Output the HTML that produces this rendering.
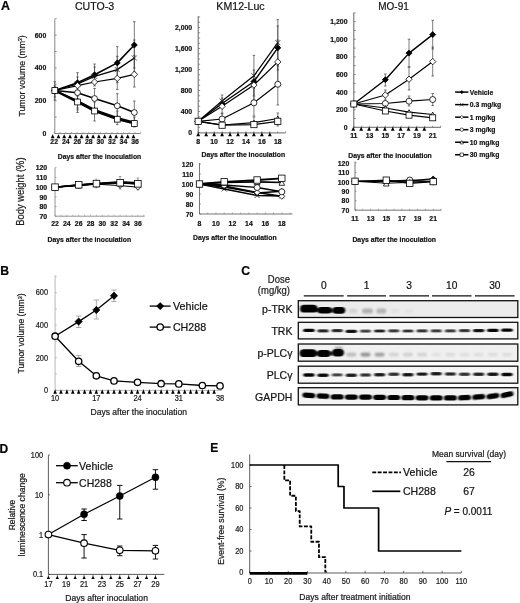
<!DOCTYPE html>
<html lang="en"><head><meta charset="utf-8"><title>Figure</title><style>html,body{margin:0;padding:0;background:#fff}svg{display:block}text{font-family:"Liberation Sans",Arial,sans-serif;stroke:#1a1a1a;stroke-width:.22px}</style></head><body>
<svg width="520" height="603" viewBox="0 0 520 603" font-family="Liberation Sans, Arial, sans-serif">
<defs><filter id="b1" x="-30%" y="-80%" width="160%" height="260%"><feGaussianBlur stdDeviation="0.8 0.6"/></filter><filter id="b2" x="-30%" y="-80%" width="160%" height="260%"><feGaussianBlur stdDeviation="1.3 0.9"/></filter><filter id="b3" x="-30%" y="-120%" width="160%" height="340%"><feGaussianBlur stdDeviation="0.9 0.55"/></filter></defs>
<rect width="520" height="603" fill="#fff"/>
<text x="0.90" y="10.00" font-size="12.5" font-weight="bold" text-anchor="start" fill="#000">A</text>
<text x="0.20" y="275.40" font-size="12.2" font-weight="bold" text-anchor="start" fill="#000">B</text>
<text x="241.20" y="275.30" font-size="12.2" font-weight="bold" text-anchor="start" fill="#000">C</text>
<text x="-0.60" y="452.50" font-size="12" font-weight="bold" text-anchor="start" fill="#000">D</text>
<text x="210.30" y="452.30" font-size="12" font-weight="bold" text-anchor="start" fill="#000">E</text>
<text transform="translate(94.50 10.00) scale(0.93 1)" font-size="11.4" text-anchor="middle" fill="#111">CUTO-3</text>
<line x1="54.80" y1="19.20" x2="54.80" y2="133.50" stroke="#777" stroke-width="0.9"/>
<line x1="54.80" y1="133.50" x2="140.40" y2="133.50" stroke="#777" stroke-width="0.9"/>
<line x1="54.80" y1="133.50" x2="56.70" y2="133.50" stroke="#666" stroke-width="0.7"/>
<text transform="translate(46.30 136.00) scale(0.91 1)" font-size="7.6" font-weight="bold" text-anchor="end" fill="#111">0</text>
<line x1="54.80" y1="117.10" x2="56.70" y2="117.10" stroke="#666" stroke-width="0.7"/>
<line x1="54.80" y1="100.70" x2="56.70" y2="100.70" stroke="#666" stroke-width="0.7"/>
<text transform="translate(46.30 103.20) scale(0.91 1)" font-size="7.6" font-weight="bold" text-anchor="end" fill="#111">200</text>
<line x1="54.80" y1="84.30" x2="56.70" y2="84.30" stroke="#666" stroke-width="0.7"/>
<line x1="54.80" y1="67.90" x2="56.70" y2="67.90" stroke="#666" stroke-width="0.7"/>
<text transform="translate(46.30 70.40) scale(0.91 1)" font-size="7.6" font-weight="bold" text-anchor="end" fill="#111">400</text>
<line x1="54.80" y1="51.50" x2="56.70" y2="51.50" stroke="#666" stroke-width="0.7"/>
<line x1="54.80" y1="35.10" x2="56.70" y2="35.10" stroke="#666" stroke-width="0.7"/>
<text transform="translate(46.30 37.60) scale(0.91 1)" font-size="7.6" font-weight="bold" text-anchor="end" fill="#111">600</text>
<line x1="54.80" y1="18.70" x2="56.70" y2="18.70" stroke="#666" stroke-width="0.7"/>
<line x1="54.20" y1="131.90" x2="54.20" y2="133.50" stroke="#777" stroke-width="0.6"/>
<line x1="59.97" y1="131.90" x2="59.97" y2="133.50" stroke="#777" stroke-width="0.6"/>
<line x1="65.74" y1="131.90" x2="65.74" y2="133.50" stroke="#777" stroke-width="0.6"/>
<line x1="71.51" y1="131.90" x2="71.51" y2="133.50" stroke="#777" stroke-width="0.6"/>
<line x1="77.28" y1="131.90" x2="77.28" y2="133.50" stroke="#777" stroke-width="0.6"/>
<line x1="83.05" y1="131.90" x2="83.05" y2="133.50" stroke="#777" stroke-width="0.6"/>
<line x1="88.82" y1="131.90" x2="88.82" y2="133.50" stroke="#777" stroke-width="0.6"/>
<line x1="94.59" y1="131.90" x2="94.59" y2="133.50" stroke="#777" stroke-width="0.6"/>
<line x1="100.36" y1="131.90" x2="100.36" y2="133.50" stroke="#777" stroke-width="0.6"/>
<line x1="106.13" y1="131.90" x2="106.13" y2="133.50" stroke="#777" stroke-width="0.6"/>
<line x1="111.90" y1="131.90" x2="111.90" y2="133.50" stroke="#777" stroke-width="0.6"/>
<line x1="117.67" y1="131.90" x2="117.67" y2="133.50" stroke="#777" stroke-width="0.6"/>
<line x1="123.44" y1="131.90" x2="123.44" y2="133.50" stroke="#777" stroke-width="0.6"/>
<line x1="129.21" y1="131.90" x2="129.21" y2="133.50" stroke="#777" stroke-width="0.6"/>
<line x1="134.98" y1="131.90" x2="134.98" y2="133.50" stroke="#777" stroke-width="0.6"/>
<line x1="140.75" y1="131.90" x2="140.75" y2="133.50" stroke="#777" stroke-width="0.6"/>
<path d="M52.70 134.30L54.60 138.30L50.80 138.30Z" fill="#000"/>
<path d="M58.47 134.30L60.37 138.30L56.57 138.30Z" fill="#000"/>
<path d="M64.24 134.30L66.14 138.30L62.34 138.30Z" fill="#000"/>
<path d="M70.01 134.30L71.91 138.30L68.11 138.30Z" fill="#000"/>
<path d="M75.78 134.30L77.68 138.30L73.88 138.30Z" fill="#000"/>
<path d="M81.55 134.30L83.45 138.30L79.65 138.30Z" fill="#000"/>
<path d="M87.32 134.30L89.22 138.30L85.42 138.30Z" fill="#000"/>
<path d="M93.09 134.30L94.99 138.30L91.19 138.30Z" fill="#000"/>
<path d="M98.86 134.30L100.76 138.30L96.96 138.30Z" fill="#000"/>
<path d="M104.63 134.30L106.53 138.30L102.73 138.30Z" fill="#000"/>
<path d="M110.40 134.30L112.30 138.30L108.50 138.30Z" fill="#000"/>
<path d="M116.17 134.30L118.07 138.30L114.27 138.30Z" fill="#000"/>
<path d="M121.94 134.30L123.84 138.30L120.04 138.30Z" fill="#000"/>
<path d="M127.71 134.30L129.61 138.30L125.81 138.30Z" fill="#000"/>
<path d="M133.48 134.30L135.38 138.30L131.58 138.30Z" fill="#000"/>
<text transform="translate(54.20 143.90) scale(0.91 1)" font-size="7.6" font-weight="bold" text-anchor="middle" fill="#111">22</text>
<text transform="translate(65.74 143.90) scale(0.91 1)" font-size="7.6" font-weight="bold" text-anchor="middle" fill="#111">24</text>
<text transform="translate(77.28 143.90) scale(0.91 1)" font-size="7.6" font-weight="bold" text-anchor="middle" fill="#111">26</text>
<text transform="translate(88.82 143.90) scale(0.91 1)" font-size="7.6" font-weight="bold" text-anchor="middle" fill="#111">28</text>
<text transform="translate(100.36 143.90) scale(0.91 1)" font-size="7.6" font-weight="bold" text-anchor="middle" fill="#111">30</text>
<text transform="translate(111.90 143.90) scale(0.91 1)" font-size="7.6" font-weight="bold" text-anchor="middle" fill="#111">32</text>
<text transform="translate(123.44 143.90) scale(0.91 1)" font-size="7.6" font-weight="bold" text-anchor="middle" fill="#111">34</text>
<text transform="translate(134.98 143.90) scale(0.91 1)" font-size="7.6" font-weight="bold" text-anchor="middle" fill="#111">36</text>
<line x1="54.80" y1="81.70" x2="54.80" y2="100.00" stroke="#444" stroke-width="0.7"/>
<line x1="53.50" y1="81.70" x2="56.10" y2="81.70" stroke="#444" stroke-width="0.7"/>
<line x1="53.50" y1="100.00" x2="56.10" y2="100.00" stroke="#444" stroke-width="0.7"/>
<line x1="54.80" y1="86.00" x2="54.80" y2="97.00" stroke="#444" stroke-width="0.7"/>
<line x1="53.50" y1="86.00" x2="56.10" y2="86.00" stroke="#444" stroke-width="0.7"/>
<line x1="53.50" y1="97.00" x2="56.10" y2="97.00" stroke="#444" stroke-width="0.7"/>
<line x1="77.52" y1="72.70" x2="77.52" y2="90.00" stroke="#444" stroke-width="0.7"/>
<line x1="76.22" y1="72.70" x2="78.82" y2="72.70" stroke="#444" stroke-width="0.7"/>
<line x1="76.22" y1="90.00" x2="78.82" y2="90.00" stroke="#444" stroke-width="0.7"/>
<line x1="77.52" y1="77.00" x2="77.52" y2="88.00" stroke="#444" stroke-width="0.7"/>
<line x1="76.22" y1="77.00" x2="78.82" y2="77.00" stroke="#444" stroke-width="0.7"/>
<line x1="76.22" y1="88.00" x2="78.82" y2="88.00" stroke="#444" stroke-width="0.7"/>
<line x1="77.52" y1="92.00" x2="77.52" y2="108.00" stroke="#444" stroke-width="0.7"/>
<line x1="76.22" y1="92.00" x2="78.82" y2="92.00" stroke="#444" stroke-width="0.7"/>
<line x1="76.22" y1="108.00" x2="78.82" y2="108.00" stroke="#444" stroke-width="0.7"/>
<line x1="77.52" y1="96.00" x2="77.52" y2="112.50" stroke="#444" stroke-width="0.7"/>
<line x1="76.22" y1="96.00" x2="78.82" y2="96.00" stroke="#444" stroke-width="0.7"/>
<line x1="76.22" y1="112.50" x2="78.82" y2="112.50" stroke="#444" stroke-width="0.7"/>
<line x1="77.52" y1="99.00" x2="77.52" y2="110.00" stroke="#444" stroke-width="0.7"/>
<line x1="76.22" y1="99.00" x2="78.82" y2="99.00" stroke="#444" stroke-width="0.7"/>
<line x1="76.22" y1="110.00" x2="78.82" y2="110.00" stroke="#444" stroke-width="0.7"/>
<line x1="94.56" y1="64.00" x2="94.56" y2="86.00" stroke="#444" stroke-width="0.7"/>
<line x1="93.26" y1="64.00" x2="95.86" y2="64.00" stroke="#444" stroke-width="0.7"/>
<line x1="93.26" y1="86.00" x2="95.86" y2="86.00" stroke="#444" stroke-width="0.7"/>
<line x1="94.56" y1="67.00" x2="94.56" y2="82.00" stroke="#444" stroke-width="0.7"/>
<line x1="93.26" y1="67.00" x2="95.86" y2="67.00" stroke="#444" stroke-width="0.7"/>
<line x1="93.26" y1="82.00" x2="95.86" y2="82.00" stroke="#444" stroke-width="0.7"/>
<line x1="94.56" y1="88.50" x2="94.56" y2="109.00" stroke="#444" stroke-width="0.7"/>
<line x1="93.26" y1="88.50" x2="95.86" y2="88.50" stroke="#444" stroke-width="0.7"/>
<line x1="93.26" y1="109.00" x2="95.86" y2="109.00" stroke="#444" stroke-width="0.7"/>
<line x1="94.56" y1="102.00" x2="94.56" y2="121.00" stroke="#444" stroke-width="0.7"/>
<line x1="93.26" y1="102.00" x2="95.86" y2="102.00" stroke="#444" stroke-width="0.7"/>
<line x1="93.26" y1="121.00" x2="95.86" y2="121.00" stroke="#444" stroke-width="0.7"/>
<line x1="117.28" y1="46.70" x2="117.28" y2="79.00" stroke="#444" stroke-width="0.7"/>
<line x1="115.98" y1="46.70" x2="118.58" y2="46.70" stroke="#444" stroke-width="0.7"/>
<line x1="115.98" y1="79.00" x2="118.58" y2="79.00" stroke="#444" stroke-width="0.7"/>
<line x1="117.28" y1="56.30" x2="117.28" y2="82.70" stroke="#444" stroke-width="0.7"/>
<line x1="115.98" y1="56.30" x2="118.58" y2="56.30" stroke="#444" stroke-width="0.7"/>
<line x1="115.98" y1="82.70" x2="118.58" y2="82.70" stroke="#444" stroke-width="0.7"/>
<line x1="117.28" y1="70.80" x2="117.28" y2="89.40" stroke="#444" stroke-width="0.7"/>
<line x1="115.98" y1="70.80" x2="118.58" y2="70.80" stroke="#444" stroke-width="0.7"/>
<line x1="115.98" y1="89.40" x2="118.58" y2="89.40" stroke="#444" stroke-width="0.7"/>
<line x1="117.28" y1="93.70" x2="117.28" y2="117.00" stroke="#444" stroke-width="0.7"/>
<line x1="115.98" y1="93.70" x2="118.58" y2="93.70" stroke="#444" stroke-width="0.7"/>
<line x1="115.98" y1="117.00" x2="118.58" y2="117.00" stroke="#444" stroke-width="0.7"/>
<line x1="117.28" y1="111.00" x2="117.28" y2="124.60" stroke="#444" stroke-width="0.7"/>
<line x1="115.98" y1="111.00" x2="118.58" y2="111.00" stroke="#444" stroke-width="0.7"/>
<line x1="115.98" y1="124.60" x2="118.58" y2="124.60" stroke="#444" stroke-width="0.7"/>
<line x1="134.32" y1="21.70" x2="134.32" y2="68.00" stroke="#444" stroke-width="0.7"/>
<line x1="133.02" y1="21.70" x2="135.62" y2="21.70" stroke="#444" stroke-width="0.7"/>
<line x1="133.02" y1="68.00" x2="135.62" y2="68.00" stroke="#444" stroke-width="0.7"/>
<line x1="134.32" y1="40.00" x2="134.32" y2="72.00" stroke="#444" stroke-width="0.7"/>
<line x1="133.02" y1="40.00" x2="135.62" y2="40.00" stroke="#444" stroke-width="0.7"/>
<line x1="133.02" y1="72.00" x2="135.62" y2="72.00" stroke="#444" stroke-width="0.7"/>
<line x1="134.32" y1="55.40" x2="134.32" y2="87.00" stroke="#444" stroke-width="0.7"/>
<line x1="133.02" y1="55.40" x2="135.62" y2="55.40" stroke="#444" stroke-width="0.7"/>
<line x1="133.02" y1="87.00" x2="135.62" y2="87.00" stroke="#444" stroke-width="0.7"/>
<line x1="134.32" y1="101.00" x2="134.32" y2="124.00" stroke="#444" stroke-width="0.7"/>
<line x1="133.02" y1="101.00" x2="135.62" y2="101.00" stroke="#444" stroke-width="0.7"/>
<line x1="133.02" y1="124.00" x2="135.62" y2="124.00" stroke="#444" stroke-width="0.7"/>
<line x1="134.32" y1="117.00" x2="134.32" y2="127.00" stroke="#444" stroke-width="0.7"/>
<line x1="133.02" y1="117.00" x2="135.62" y2="117.00" stroke="#444" stroke-width="0.7"/>
<line x1="133.02" y1="127.00" x2="135.62" y2="127.00" stroke="#444" stroke-width="0.7"/>
<polyline points="54.80,90.50 77.52,82.70 94.56,74.80 117.28,62.90 134.32,45.00" fill="none" stroke="#000" stroke-width="1.6" stroke-linejoin="round"/>
<polyline points="54.80,90.50 77.52,84.00 94.56,76.30 117.28,69.60 134.32,58.00" fill="none" stroke="#000" stroke-width="1.3" stroke-linejoin="round"/>
<polyline points="54.80,90.50 77.52,85.60 94.56,82.00 117.28,78.30 134.32,74.40" fill="none" stroke="#000" stroke-width="1.2" stroke-linejoin="round"/>
<polyline points="54.80,90.50 77.52,92.70 94.56,98.50 117.28,105.80 134.32,112.50" fill="none" stroke="#000" stroke-width="1.5" stroke-linejoin="round"/>
<polyline points="54.80,90.50 77.52,100.80 94.56,109.80 117.28,117.90 134.32,122.40" fill="none" stroke="#000" stroke-width="1.8" stroke-linejoin="round"/>
<polyline points="54.80,90.50 77.52,102.00 94.56,111.00 117.28,119.20 134.32,123.50" fill="none" stroke="#000" stroke-width="2.0" stroke-linejoin="round"/>
<path d="M54.80 87.50L57.80 90.50L54.80 93.50L51.80 90.50Z" fill="#000" stroke="#000" stroke-width="0.8"/>
<path d="M77.52 79.70L80.52 82.70L77.52 85.70L74.52 82.70Z" fill="#000" stroke="#000" stroke-width="0.8"/>
<path d="M94.56 71.80L97.56 74.80L94.56 77.80L91.56 74.80Z" fill="#000" stroke="#000" stroke-width="0.8"/>
<path d="M117.28 59.90L120.28 62.90L117.28 65.90L114.28 62.90Z" fill="#000" stroke="#000" stroke-width="0.8"/>
<path d="M134.32 42.00L137.32 45.00L134.32 48.00L131.32 45.00Z" fill="#000" stroke="#000" stroke-width="0.8"/>
<path d="M52.30 88.00L57.30 93.00M52.30 93.00L57.30 88.00" fill="none" stroke="#222" stroke-width="0.8"/>
<path d="M75.02 81.50L80.02 86.50M75.02 86.50L80.02 81.50" fill="none" stroke="#222" stroke-width="0.8"/>
<path d="M92.06 73.80L97.06 78.80M92.06 78.80L97.06 73.80" fill="none" stroke="#222" stroke-width="0.8"/>
<path d="M114.78 67.10L119.78 72.10M114.78 72.10L119.78 67.10" fill="none" stroke="#222" stroke-width="0.8"/>
<path d="M131.82 55.50L136.82 60.50M131.82 60.50L136.82 55.50" fill="none" stroke="#222" stroke-width="0.8"/>
<path d="M54.80 87.30L58.00 90.50L54.80 93.70L51.60 90.50Z" fill="#fff" stroke="#000" stroke-width="0.8"/>
<path d="M77.52 82.40L80.72 85.60L77.52 88.80L74.32 85.60Z" fill="#fff" stroke="#000" stroke-width="0.8"/>
<path d="M94.56 78.80L97.76 82.00L94.56 85.20L91.36 82.00Z" fill="#fff" stroke="#000" stroke-width="0.8"/>
<path d="M117.28 75.10L120.48 78.30L117.28 81.50L114.08 78.30Z" fill="#fff" stroke="#000" stroke-width="0.8"/>
<path d="M134.32 71.20L137.52 74.40L134.32 77.60L131.12 74.40Z" fill="#fff" stroke="#000" stroke-width="0.8"/>
<circle cx="54.80" cy="90.50" r="2.90" fill="#fff" stroke="#000" stroke-width="0.8"/>
<circle cx="77.52" cy="92.70" r="2.90" fill="#fff" stroke="#000" stroke-width="0.8"/>
<circle cx="94.56" cy="98.50" r="2.90" fill="#fff" stroke="#000" stroke-width="0.8"/>
<circle cx="117.28" cy="105.80" r="2.90" fill="#fff" stroke="#000" stroke-width="0.8"/>
<circle cx="134.32" cy="112.50" r="2.90" fill="#fff" stroke="#000" stroke-width="0.8"/>
<path d="M54.80 88.00L57.30 93.00L52.30 93.00Z" fill="#fff" stroke="#000" stroke-width="0.8"/>
<path d="M77.52 98.30L80.02 103.30L75.02 103.30Z" fill="#fff" stroke="#000" stroke-width="0.8"/>
<path d="M94.56 107.30L97.06 112.30L92.06 112.30Z" fill="#fff" stroke="#000" stroke-width="0.8"/>
<path d="M117.28 115.40L119.78 120.40L114.78 120.40Z" fill="#fff" stroke="#000" stroke-width="0.8"/>
<path d="M134.32 119.90L136.82 124.90L131.82 124.90Z" fill="#fff" stroke="#000" stroke-width="0.8"/>
<rect x="51.90" y="87.60" width="5.80" height="5.80" fill="#fff" stroke="#000" stroke-width="0.8"/>
<rect x="74.62" y="99.10" width="5.80" height="5.80" fill="#fff" stroke="#000" stroke-width="0.8"/>
<rect x="91.66" y="108.10" width="5.80" height="5.80" fill="#fff" stroke="#000" stroke-width="0.8"/>
<rect x="114.38" y="116.30" width="5.80" height="5.80" fill="#fff" stroke="#000" stroke-width="0.8"/>
<rect x="131.42" y="120.60" width="5.80" height="5.80" fill="#fff" stroke="#000" stroke-width="0.8"/>
<text transform="translate(240.50 10.00) scale(0.93 1)" font-size="11.4" text-anchor="middle" fill="#111">KM12-Luc</text>
<line x1="198.20" y1="16.20" x2="198.20" y2="132.90" stroke="#555" stroke-width="0.9"/>
<line x1="198.20" y1="132.90" x2="285.50" y2="132.90" stroke="#555" stroke-width="0.9"/>
<line x1="198.20" y1="132.50" x2="200.10" y2="132.50" stroke="#666" stroke-width="0.7"/>
<text transform="translate(192.20 135.00) scale(0.91 1)" font-size="7.6" font-weight="bold" text-anchor="end" fill="#111">0</text>
<line x1="198.20" y1="127.25" x2="200.10" y2="127.25" stroke="#666" stroke-width="0.7"/>
<line x1="198.20" y1="122.00" x2="200.10" y2="122.00" stroke="#666" stroke-width="0.7"/>
<line x1="198.20" y1="116.75" x2="200.10" y2="116.75" stroke="#666" stroke-width="0.7"/>
<line x1="198.20" y1="111.50" x2="200.10" y2="111.50" stroke="#666" stroke-width="0.7"/>
<text transform="translate(192.20 114.00) scale(0.91 1)" font-size="7.6" font-weight="bold" text-anchor="end" fill="#111">400</text>
<line x1="198.20" y1="106.25" x2="200.10" y2="106.25" stroke="#666" stroke-width="0.7"/>
<line x1="198.20" y1="101.00" x2="200.10" y2="101.00" stroke="#666" stroke-width="0.7"/>
<line x1="198.20" y1="95.75" x2="200.10" y2="95.75" stroke="#666" stroke-width="0.7"/>
<line x1="198.20" y1="90.50" x2="200.10" y2="90.50" stroke="#666" stroke-width="0.7"/>
<text transform="translate(192.20 93.00) scale(0.91 1)" font-size="7.6" font-weight="bold" text-anchor="end" fill="#111">800</text>
<line x1="198.20" y1="85.25" x2="200.10" y2="85.25" stroke="#666" stroke-width="0.7"/>
<line x1="198.20" y1="80.00" x2="200.10" y2="80.00" stroke="#666" stroke-width="0.7"/>
<line x1="198.20" y1="74.75" x2="200.10" y2="74.75" stroke="#666" stroke-width="0.7"/>
<line x1="198.20" y1="69.50" x2="200.10" y2="69.50" stroke="#666" stroke-width="0.7"/>
<text transform="translate(192.20 72.00) scale(0.91 1)" font-size="7.6" font-weight="bold" text-anchor="end" fill="#111">1,200</text>
<line x1="198.20" y1="64.25" x2="200.10" y2="64.25" stroke="#666" stroke-width="0.7"/>
<line x1="198.20" y1="59.00" x2="200.10" y2="59.00" stroke="#666" stroke-width="0.7"/>
<line x1="198.20" y1="53.75" x2="200.10" y2="53.75" stroke="#666" stroke-width="0.7"/>
<line x1="198.20" y1="48.50" x2="200.10" y2="48.50" stroke="#666" stroke-width="0.7"/>
<text transform="translate(192.20 51.00) scale(0.91 1)" font-size="7.6" font-weight="bold" text-anchor="end" fill="#111">1,600</text>
<line x1="198.20" y1="43.25" x2="200.10" y2="43.25" stroke="#666" stroke-width="0.7"/>
<line x1="198.20" y1="38.00" x2="200.10" y2="38.00" stroke="#666" stroke-width="0.7"/>
<line x1="198.20" y1="32.75" x2="200.10" y2="32.75" stroke="#666" stroke-width="0.7"/>
<line x1="198.20" y1="27.50" x2="200.10" y2="27.50" stroke="#666" stroke-width="0.7"/>
<text transform="translate(192.20 30.00) scale(0.91 1)" font-size="7.6" font-weight="bold" text-anchor="end" fill="#111">2,000</text>
<line x1="198.20" y1="22.25" x2="200.10" y2="22.25" stroke="#666" stroke-width="0.7"/>
<line x1="198.20" y1="17.00" x2="200.10" y2="17.00" stroke="#666" stroke-width="0.7"/>
<line x1="198.20" y1="131.30" x2="198.20" y2="132.90" stroke="#555" stroke-width="0.6"/>
<line x1="206.16" y1="131.30" x2="206.16" y2="132.90" stroke="#555" stroke-width="0.6"/>
<line x1="214.12" y1="131.30" x2="214.12" y2="132.90" stroke="#555" stroke-width="0.6"/>
<line x1="222.08" y1="131.30" x2="222.08" y2="132.90" stroke="#555" stroke-width="0.6"/>
<line x1="230.04" y1="131.30" x2="230.04" y2="132.90" stroke="#555" stroke-width="0.6"/>
<line x1="238.00" y1="131.30" x2="238.00" y2="132.90" stroke="#555" stroke-width="0.6"/>
<line x1="245.96" y1="131.30" x2="245.96" y2="132.90" stroke="#555" stroke-width="0.6"/>
<line x1="253.92" y1="131.30" x2="253.92" y2="132.90" stroke="#555" stroke-width="0.6"/>
<line x1="261.88" y1="131.30" x2="261.88" y2="132.90" stroke="#555" stroke-width="0.6"/>
<line x1="269.84" y1="131.30" x2="269.84" y2="132.90" stroke="#555" stroke-width="0.6"/>
<line x1="277.80" y1="131.30" x2="277.80" y2="132.90" stroke="#555" stroke-width="0.6"/>
<line x1="285.76" y1="131.30" x2="285.76" y2="132.90" stroke="#555" stroke-width="0.6"/>
<path d="M198.20 132.30L200.10 136.30L196.30 136.30Z" fill="#000"/>
<path d="M206.16 132.30L208.06 136.30L204.26 136.30Z" fill="#000"/>
<path d="M214.12 132.30L216.02 136.30L212.22 136.30Z" fill="#000"/>
<path d="M222.08 132.30L223.98 136.30L220.18 136.30Z" fill="#000"/>
<path d="M230.04 132.30L231.94 136.30L228.14 136.30Z" fill="#000"/>
<path d="M238.00 132.30L239.90 136.30L236.10 136.30Z" fill="#000"/>
<path d="M245.96 132.30L247.86 136.30L244.06 136.30Z" fill="#000"/>
<path d="M253.92 132.30L255.82 136.30L252.02 136.30Z" fill="#000"/>
<path d="M261.88 132.30L263.78 136.30L259.98 136.30Z" fill="#000"/>
<path d="M269.84 132.30L271.74 136.30L267.94 136.30Z" fill="#000"/>
<text transform="translate(198.20 143.50) scale(0.91 1)" font-size="7.6" font-weight="bold" text-anchor="middle" fill="#111">8</text>
<text transform="translate(214.12 143.50) scale(0.91 1)" font-size="7.6" font-weight="bold" text-anchor="middle" fill="#111">10</text>
<text transform="translate(230.04 143.50) scale(0.91 1)" font-size="7.6" font-weight="bold" text-anchor="middle" fill="#111">12</text>
<text transform="translate(245.96 143.50) scale(0.91 1)" font-size="7.6" font-weight="bold" text-anchor="middle" fill="#111">14</text>
<text transform="translate(261.88 143.50) scale(0.91 1)" font-size="7.6" font-weight="bold" text-anchor="middle" fill="#111">16</text>
<text transform="translate(277.80 143.50) scale(0.91 1)" font-size="7.6" font-weight="bold" text-anchor="middle" fill="#111">18</text>
<line x1="222.08" y1="95.00" x2="222.08" y2="107.00" stroke="#444" stroke-width="0.7"/>
<line x1="220.78" y1="95.00" x2="223.38" y2="95.00" stroke="#444" stroke-width="0.7"/>
<line x1="220.78" y1="107.00" x2="223.38" y2="107.00" stroke="#444" stroke-width="0.7"/>
<line x1="222.08" y1="98.00" x2="222.08" y2="114.00" stroke="#444" stroke-width="0.7"/>
<line x1="220.78" y1="98.00" x2="223.38" y2="98.00" stroke="#444" stroke-width="0.7"/>
<line x1="220.78" y1="114.00" x2="223.38" y2="114.00" stroke="#444" stroke-width="0.7"/>
<line x1="222.08" y1="113.00" x2="222.08" y2="124.00" stroke="#444" stroke-width="0.7"/>
<line x1="220.78" y1="113.00" x2="223.38" y2="113.00" stroke="#444" stroke-width="0.7"/>
<line x1="220.78" y1="124.00" x2="223.38" y2="124.00" stroke="#444" stroke-width="0.7"/>
<line x1="253.92" y1="55.40" x2="253.92" y2="96.00" stroke="#444" stroke-width="0.7"/>
<line x1="252.62" y1="55.40" x2="255.22" y2="55.40" stroke="#444" stroke-width="0.7"/>
<line x1="252.62" y1="96.00" x2="255.22" y2="96.00" stroke="#444" stroke-width="0.7"/>
<line x1="253.92" y1="70.00" x2="253.92" y2="100.00" stroke="#444" stroke-width="0.7"/>
<line x1="252.62" y1="70.00" x2="255.22" y2="70.00" stroke="#444" stroke-width="0.7"/>
<line x1="252.62" y1="100.00" x2="255.22" y2="100.00" stroke="#444" stroke-width="0.7"/>
<line x1="253.92" y1="88.00" x2="253.92" y2="116.00" stroke="#444" stroke-width="0.7"/>
<line x1="252.62" y1="88.00" x2="255.22" y2="88.00" stroke="#444" stroke-width="0.7"/>
<line x1="252.62" y1="116.00" x2="255.22" y2="116.00" stroke="#444" stroke-width="0.7"/>
<line x1="253.92" y1="117.00" x2="253.92" y2="127.00" stroke="#444" stroke-width="0.7"/>
<line x1="252.62" y1="117.00" x2="255.22" y2="117.00" stroke="#444" stroke-width="0.7"/>
<line x1="252.62" y1="127.00" x2="255.22" y2="127.00" stroke="#444" stroke-width="0.7"/>
<line x1="277.80" y1="19.60" x2="277.80" y2="66.00" stroke="#444" stroke-width="0.7"/>
<line x1="276.50" y1="19.60" x2="279.10" y2="19.60" stroke="#444" stroke-width="0.7"/>
<line x1="276.50" y1="66.00" x2="279.10" y2="66.00" stroke="#444" stroke-width="0.7"/>
<line x1="277.80" y1="26.00" x2="277.80" y2="70.00" stroke="#444" stroke-width="0.7"/>
<line x1="276.50" y1="26.00" x2="279.10" y2="26.00" stroke="#444" stroke-width="0.7"/>
<line x1="276.50" y1="70.00" x2="279.10" y2="70.00" stroke="#444" stroke-width="0.7"/>
<line x1="277.80" y1="40.00" x2="277.80" y2="84.00" stroke="#444" stroke-width="0.7"/>
<line x1="276.50" y1="40.00" x2="279.10" y2="40.00" stroke="#444" stroke-width="0.7"/>
<line x1="276.50" y1="84.00" x2="279.10" y2="84.00" stroke="#444" stroke-width="0.7"/>
<line x1="277.80" y1="63.00" x2="277.80" y2="105.00" stroke="#444" stroke-width="0.7"/>
<line x1="276.50" y1="63.00" x2="279.10" y2="63.00" stroke="#444" stroke-width="0.7"/>
<line x1="276.50" y1="105.00" x2="279.10" y2="105.00" stroke="#444" stroke-width="0.7"/>
<line x1="277.80" y1="113.00" x2="277.80" y2="126.00" stroke="#444" stroke-width="0.7"/>
<line x1="276.50" y1="113.00" x2="279.10" y2="113.00" stroke="#444" stroke-width="0.7"/>
<line x1="276.50" y1="126.00" x2="279.10" y2="126.00" stroke="#444" stroke-width="0.7"/>
<polyline points="198.20,121.30 222.08,103.50 253.92,81.50 277.80,47.80" fill="none" stroke="#000" stroke-width="1.4" stroke-linejoin="round"/>
<polyline points="198.20,121.30 222.08,101.00 253.92,75.80 277.80,42.70" fill="none" stroke="#000" stroke-width="1.2" stroke-linejoin="round"/>
<polyline points="198.20,121.30 222.08,106.30 253.92,85.00 277.80,61.90" fill="none" stroke="#000" stroke-width="1.2" stroke-linejoin="round"/>
<polyline points="198.20,121.30 222.08,119.00 253.92,102.80 277.80,84.30" fill="none" stroke="#000" stroke-width="1.2" stroke-linejoin="round"/>
<polyline points="198.20,121.30 222.08,125.00 253.92,122.60 277.80,118.50" fill="none" stroke="#000" stroke-width="1.2" stroke-linejoin="round"/>
<polyline points="198.20,121.30 222.08,125.20 253.92,124.60 277.80,121.30" fill="none" stroke="#000" stroke-width="1.2" stroke-linejoin="round"/>
<path d="M198.20 118.30L201.20 121.30L198.20 124.30L195.20 121.30Z" fill="#000" stroke="#000" stroke-width="0.8"/>
<path d="M222.08 100.50L225.08 103.50L222.08 106.50L219.08 103.50Z" fill="#000" stroke="#000" stroke-width="0.8"/>
<path d="M253.92 78.50L256.92 81.50L253.92 84.50L250.92 81.50Z" fill="#000" stroke="#000" stroke-width="0.8"/>
<path d="M277.80 44.80L280.80 47.80L277.80 50.80L274.80 47.80Z" fill="#000" stroke="#000" stroke-width="0.8"/>
<path d="M195.70 118.80L200.70 123.80M195.70 123.80L200.70 118.80" fill="none" stroke="#222" stroke-width="0.8"/>
<path d="M219.58 98.50L224.58 103.50M219.58 103.50L224.58 98.50" fill="none" stroke="#222" stroke-width="0.8"/>
<path d="M251.42 73.30L256.42 78.30M251.42 78.30L256.42 73.30" fill="none" stroke="#222" stroke-width="0.8"/>
<path d="M275.30 40.20L280.30 45.20M275.30 45.20L280.30 40.20" fill="none" stroke="#222" stroke-width="0.8"/>
<path d="M198.20 118.10L201.40 121.30L198.20 124.50L195.00 121.30Z" fill="#fff" stroke="#000" stroke-width="0.8"/>
<path d="M222.08 103.10L225.28 106.30L222.08 109.50L218.88 106.30Z" fill="#fff" stroke="#000" stroke-width="0.8"/>
<path d="M253.92 81.80L257.12 85.00L253.92 88.20L250.72 85.00Z" fill="#fff" stroke="#000" stroke-width="0.8"/>
<path d="M277.80 58.70L281.00 61.90L277.80 65.10L274.60 61.90Z" fill="#fff" stroke="#000" stroke-width="0.8"/>
<circle cx="198.20" cy="121.30" r="3.00" fill="#fff" stroke="#000" stroke-width="0.8"/>
<circle cx="222.08" cy="119.00" r="3.00" fill="#fff" stroke="#000" stroke-width="0.8"/>
<circle cx="253.92" cy="102.80" r="3.00" fill="#fff" stroke="#000" stroke-width="0.8"/>
<circle cx="277.80" cy="84.30" r="3.00" fill="#fff" stroke="#000" stroke-width="0.8"/>
<path d="M198.20 118.80L200.70 123.80L195.70 123.80Z" fill="#fff" stroke="#000" stroke-width="0.8"/>
<path d="M222.08 122.50L224.58 127.50L219.58 127.50Z" fill="#fff" stroke="#000" stroke-width="0.8"/>
<path d="M253.92 120.10L256.42 125.10L251.42 125.10Z" fill="#fff" stroke="#000" stroke-width="0.8"/>
<path d="M277.80 116.00L280.30 121.00L275.30 121.00Z" fill="#fff" stroke="#000" stroke-width="0.8"/>
<rect x="195.10" y="118.20" width="6.20" height="6.20" fill="#fff" stroke="#000" stroke-width="0.8"/>
<rect x="218.98" y="122.10" width="6.20" height="6.20" fill="#fff" stroke="#000" stroke-width="0.8"/>
<rect x="250.82" y="121.50" width="6.20" height="6.20" fill="#fff" stroke="#000" stroke-width="0.8"/>
<rect x="274.70" y="118.20" width="6.20" height="6.20" fill="#fff" stroke="#000" stroke-width="0.8"/>
<text transform="translate(393.50 10.00) scale(0.875 1)" font-size="11.4" text-anchor="middle" fill="#111">MO-91</text>
<line x1="353.80" y1="12.70" x2="353.80" y2="127.30" stroke="#555" stroke-width="0.9"/>
<line x1="353.80" y1="127.30" x2="440.80" y2="127.30" stroke="#555" stroke-width="0.9"/>
<line x1="353.80" y1="127.30" x2="355.70" y2="127.30" stroke="#666" stroke-width="0.7"/>
<text transform="translate(347.50 129.80) scale(0.91 1)" font-size="7.6" font-weight="bold" text-anchor="end" fill="#111">0</text>
<line x1="353.80" y1="118.50" x2="355.70" y2="118.50" stroke="#666" stroke-width="0.7"/>
<line x1="353.80" y1="109.70" x2="355.70" y2="109.70" stroke="#666" stroke-width="0.7"/>
<text transform="translate(347.50 112.20) scale(0.91 1)" font-size="7.6" font-weight="bold" text-anchor="end" fill="#111">200</text>
<line x1="353.80" y1="100.90" x2="355.70" y2="100.90" stroke="#666" stroke-width="0.7"/>
<line x1="353.80" y1="92.10" x2="355.70" y2="92.10" stroke="#666" stroke-width="0.7"/>
<text transform="translate(347.50 94.60) scale(0.91 1)" font-size="7.6" font-weight="bold" text-anchor="end" fill="#111">400</text>
<line x1="353.80" y1="83.30" x2="355.70" y2="83.30" stroke="#666" stroke-width="0.7"/>
<line x1="353.80" y1="74.50" x2="355.70" y2="74.50" stroke="#666" stroke-width="0.7"/>
<text transform="translate(347.50 77.00) scale(0.91 1)" font-size="7.6" font-weight="bold" text-anchor="end" fill="#111">600</text>
<line x1="353.80" y1="65.70" x2="355.70" y2="65.70" stroke="#666" stroke-width="0.7"/>
<line x1="353.80" y1="56.90" x2="355.70" y2="56.90" stroke="#666" stroke-width="0.7"/>
<text transform="translate(347.50 59.40) scale(0.91 1)" font-size="7.6" font-weight="bold" text-anchor="end" fill="#111">800</text>
<line x1="353.80" y1="48.10" x2="355.70" y2="48.10" stroke="#666" stroke-width="0.7"/>
<line x1="353.80" y1="39.30" x2="355.70" y2="39.30" stroke="#666" stroke-width="0.7"/>
<text transform="translate(347.50 41.80) scale(0.91 1)" font-size="7.6" font-weight="bold" text-anchor="end" fill="#111">1,000</text>
<line x1="353.80" y1="30.50" x2="355.70" y2="30.50" stroke="#666" stroke-width="0.7"/>
<line x1="353.80" y1="21.70" x2="355.70" y2="21.70" stroke="#666" stroke-width="0.7"/>
<text transform="translate(347.50 24.20) scale(0.91 1)" font-size="7.6" font-weight="bold" text-anchor="end" fill="#111">1,200</text>
<line x1="353.80" y1="12.90" x2="355.70" y2="12.90" stroke="#666" stroke-width="0.7"/>
<line x1="353.80" y1="125.70" x2="353.80" y2="127.30" stroke="#555" stroke-width="0.6"/>
<line x1="361.69" y1="125.70" x2="361.69" y2="127.30" stroke="#555" stroke-width="0.6"/>
<line x1="369.58" y1="125.70" x2="369.58" y2="127.30" stroke="#555" stroke-width="0.6"/>
<line x1="377.47" y1="125.70" x2="377.47" y2="127.30" stroke="#555" stroke-width="0.6"/>
<line x1="385.36" y1="125.70" x2="385.36" y2="127.30" stroke="#555" stroke-width="0.6"/>
<line x1="393.25" y1="125.70" x2="393.25" y2="127.30" stroke="#555" stroke-width="0.6"/>
<line x1="401.14" y1="125.70" x2="401.14" y2="127.30" stroke="#555" stroke-width="0.6"/>
<line x1="409.03" y1="125.70" x2="409.03" y2="127.30" stroke="#555" stroke-width="0.6"/>
<line x1="416.92" y1="125.70" x2="416.92" y2="127.30" stroke="#555" stroke-width="0.6"/>
<line x1="424.81" y1="125.70" x2="424.81" y2="127.30" stroke="#555" stroke-width="0.6"/>
<line x1="432.70" y1="125.70" x2="432.70" y2="127.30" stroke="#555" stroke-width="0.6"/>
<line x1="440.59" y1="125.70" x2="440.59" y2="127.30" stroke="#555" stroke-width="0.6"/>
<path d="M353.30 126.70L355.20 130.70L351.40 130.70Z" fill="#000"/>
<path d="M361.19 126.70L363.09 130.70L359.29 130.70Z" fill="#000"/>
<path d="M369.08 126.70L370.98 130.70L367.18 130.70Z" fill="#000"/>
<path d="M376.97 126.70L378.87 130.70L375.07 130.70Z" fill="#000"/>
<path d="M384.86 126.70L386.76 130.70L382.96 130.70Z" fill="#000"/>
<path d="M392.75 126.70L394.65 130.70L390.85 130.70Z" fill="#000"/>
<path d="M400.64 126.70L402.54 130.70L398.74 130.70Z" fill="#000"/>
<path d="M408.53 126.70L410.43 130.70L406.63 130.70Z" fill="#000"/>
<path d="M416.42 126.70L418.32 130.70L414.52 130.70Z" fill="#000"/>
<path d="M424.31 126.70L426.21 130.70L422.41 130.70Z" fill="#000"/>
<text transform="translate(353.80 138.30) scale(0.91 1)" font-size="7.6" font-weight="bold" text-anchor="middle" fill="#111">11</text>
<text transform="translate(369.58 138.30) scale(0.91 1)" font-size="7.6" font-weight="bold" text-anchor="middle" fill="#111">13</text>
<text transform="translate(385.36 138.30) scale(0.91 1)" font-size="7.6" font-weight="bold" text-anchor="middle" fill="#111">15</text>
<text transform="translate(401.14 138.30) scale(0.91 1)" font-size="7.6" font-weight="bold" text-anchor="middle" fill="#111">17</text>
<text transform="translate(416.92 138.30) scale(0.91 1)" font-size="7.6" font-weight="bold" text-anchor="middle" fill="#111">19</text>
<text transform="translate(432.70 138.30) scale(0.91 1)" font-size="7.6" font-weight="bold" text-anchor="middle" fill="#111">21</text>
<line x1="385.36" y1="74.00" x2="385.36" y2="86.00" stroke="#444" stroke-width="0.7"/>
<line x1="384.06" y1="74.00" x2="386.66" y2="74.00" stroke="#444" stroke-width="0.7"/>
<line x1="384.06" y1="86.00" x2="386.66" y2="86.00" stroke="#444" stroke-width="0.7"/>
<line x1="409.03" y1="39.20" x2="409.03" y2="67.00" stroke="#444" stroke-width="0.7"/>
<line x1="407.73" y1="39.20" x2="410.33" y2="39.20" stroke="#444" stroke-width="0.7"/>
<line x1="407.73" y1="67.00" x2="410.33" y2="67.00" stroke="#444" stroke-width="0.7"/>
<line x1="432.70" y1="20.30" x2="432.70" y2="49.00" stroke="#444" stroke-width="0.7"/>
<line x1="431.40" y1="20.30" x2="434.00" y2="20.30" stroke="#444" stroke-width="0.7"/>
<line x1="431.40" y1="49.00" x2="434.00" y2="49.00" stroke="#444" stroke-width="0.7"/>
<line x1="409.03" y1="67.00" x2="409.03" y2="90.00" stroke="#444" stroke-width="0.7"/>
<line x1="407.73" y1="67.00" x2="410.33" y2="67.00" stroke="#444" stroke-width="0.7"/>
<line x1="407.73" y1="90.00" x2="410.33" y2="90.00" stroke="#444" stroke-width="0.7"/>
<line x1="432.70" y1="47.00" x2="432.70" y2="76.00" stroke="#444" stroke-width="0.7"/>
<line x1="431.40" y1="47.00" x2="434.00" y2="47.00" stroke="#444" stroke-width="0.7"/>
<line x1="431.40" y1="76.00" x2="434.00" y2="76.00" stroke="#444" stroke-width="0.7"/>
<line x1="385.36" y1="90.00" x2="385.36" y2="100.00" stroke="#444" stroke-width="0.7"/>
<line x1="384.06" y1="90.00" x2="386.66" y2="90.00" stroke="#444" stroke-width="0.7"/>
<line x1="384.06" y1="100.00" x2="386.66" y2="100.00" stroke="#444" stroke-width="0.7"/>
<line x1="409.03" y1="96.00" x2="409.03" y2="106.00" stroke="#444" stroke-width="0.7"/>
<line x1="407.73" y1="96.00" x2="410.33" y2="96.00" stroke="#444" stroke-width="0.7"/>
<line x1="407.73" y1="106.00" x2="410.33" y2="106.00" stroke="#444" stroke-width="0.7"/>
<line x1="432.70" y1="93.50" x2="432.70" y2="105.50" stroke="#444" stroke-width="0.7"/>
<line x1="431.40" y1="93.50" x2="434.00" y2="93.50" stroke="#444" stroke-width="0.7"/>
<line x1="431.40" y1="105.50" x2="434.00" y2="105.50" stroke="#444" stroke-width="0.7"/>
<polyline points="353.80,104.00 385.36,79.70 409.03,53.10 432.70,34.60" fill="none" stroke="#000" stroke-width="1.4" stroke-linejoin="round"/>
<polyline points="353.80,104.00 385.36,95.00 409.03,79.20 432.70,61.60" fill="none" stroke="#000" stroke-width="1.2" stroke-linejoin="round"/>
<polyline points="353.80,104.00 385.36,103.50 409.03,101.20 432.70,99.50" fill="none" stroke="#000" stroke-width="1.2" stroke-linejoin="round"/>
<polyline points="353.80,104.00 385.36,108.00 409.03,112.20 432.70,114.50" fill="none" stroke="#000" stroke-width="1.2" stroke-linejoin="round"/>
<polyline points="353.80,104.00 385.36,111.00 409.03,115.20 432.70,117.80" fill="none" stroke="#000" stroke-width="1.2" stroke-linejoin="round"/>
<path d="M353.80 101.00L356.80 104.00L353.80 107.00L350.80 104.00Z" fill="#000" stroke="#000" stroke-width="0.8"/>
<path d="M385.36 76.70L388.36 79.70L385.36 82.70L382.36 79.70Z" fill="#000" stroke="#000" stroke-width="0.8"/>
<path d="M409.03 50.10L412.03 53.10L409.03 56.10L406.03 53.10Z" fill="#000" stroke="#000" stroke-width="0.8"/>
<path d="M432.70 31.60L435.70 34.60L432.70 37.60L429.70 34.60Z" fill="#000" stroke="#000" stroke-width="0.8"/>
<path d="M353.80 100.80L357.00 104.00L353.80 107.20L350.60 104.00Z" fill="#fff" stroke="#000" stroke-width="0.8"/>
<path d="M385.36 91.80L388.56 95.00L385.36 98.20L382.16 95.00Z" fill="#fff" stroke="#000" stroke-width="0.8"/>
<path d="M409.03 76.00L412.23 79.20L409.03 82.40L405.83 79.20Z" fill="#fff" stroke="#000" stroke-width="0.8"/>
<path d="M432.70 58.40L435.90 61.60L432.70 64.80L429.50 61.60Z" fill="#fff" stroke="#000" stroke-width="0.8"/>
<circle cx="353.80" cy="104.00" r="3.00" fill="#fff" stroke="#000" stroke-width="0.8"/>
<circle cx="385.36" cy="103.50" r="3.00" fill="#fff" stroke="#000" stroke-width="0.8"/>
<circle cx="409.03" cy="101.20" r="3.00" fill="#fff" stroke="#000" stroke-width="0.8"/>
<circle cx="432.70" cy="99.50" r="3.00" fill="#fff" stroke="#000" stroke-width="0.8"/>
<path d="M353.80 101.50L356.30 106.50L351.30 106.50Z" fill="#fff" stroke="#000" stroke-width="0.8"/>
<path d="M385.36 105.50L387.86 110.50L382.86 110.50Z" fill="#fff" stroke="#000" stroke-width="0.8"/>
<path d="M409.03 109.70L411.53 114.70L406.53 114.70Z" fill="#fff" stroke="#000" stroke-width="0.8"/>
<path d="M432.70 112.00L435.20 117.00L430.20 117.00Z" fill="#fff" stroke="#000" stroke-width="0.8"/>
<rect x="350.80" y="101.00" width="6.00" height="6.00" fill="#fff" stroke="#000" stroke-width="0.8"/>
<rect x="382.36" y="108.00" width="6.00" height="6.00" fill="#fff" stroke="#000" stroke-width="0.8"/>
<rect x="406.03" y="112.20" width="6.00" height="6.00" fill="#fff" stroke="#000" stroke-width="0.8"/>
<rect x="429.70" y="114.80" width="6.00" height="6.00" fill="#fff" stroke="#000" stroke-width="0.8"/>
<text transform="translate(25.20 75.90) rotate(-90) scale(0.915 1)" font-size="9.6" text-anchor="middle" fill="#222">Tumor volume (mm<tspan dy="-2.8" font-size="5.4">3</tspan><tspan dy="2.8">)</tspan></text>
<line x1="455.10" y1="92.10" x2="468.40" y2="92.10" stroke="#000" stroke-width="1.5"/>
<path d="M461.75 90.40L463.45 92.10L461.75 93.80L460.05 92.10Z" fill="#000" stroke="#000" stroke-width="0.6"/>
<text transform="translate(469.80 94.60) scale(0.92 1)" font-size="7.4" font-weight="bold" text-anchor="start" fill="#111">Vehicle</text>
<line x1="455.10" y1="104.63" x2="468.40" y2="104.63" stroke="#000" stroke-width="1.5"/>
<path d="M460.05 102.93L463.45 106.33M460.05 106.33L463.45 102.93" fill="none" stroke="#222" stroke-width="0.6"/>
<text transform="translate(469.80 107.13) scale(0.92 1)" font-size="7.4" font-weight="bold" text-anchor="start" fill="#111">0.3 mg/kg</text>
<line x1="455.10" y1="117.16" x2="468.40" y2="117.16" stroke="#000" stroke-width="1.5"/>
<path d="M461.75 115.46L463.45 117.16L461.75 118.86L460.05 117.16Z" fill="#fff" stroke="#000" stroke-width="0.6"/>
<text transform="translate(469.80 119.66) scale(0.92 1)" font-size="7.4" font-weight="bold" text-anchor="start" fill="#111">1 mg/kg</text>
<line x1="455.10" y1="129.69" x2="468.40" y2="129.69" stroke="#000" stroke-width="1.5"/>
<circle cx="461.75" cy="129.69" r="1.70" fill="#fff" stroke="#000" stroke-width="0.6"/>
<text transform="translate(469.80 132.19) scale(0.92 1)" font-size="7.4" font-weight="bold" text-anchor="start" fill="#111">3 mg/kg</text>
<line x1="455.10" y1="142.22" x2="468.40" y2="142.22" stroke="#000" stroke-width="1.5"/>
<path d="M461.75 140.52L463.45 143.92L460.05 143.92Z" fill="#fff" stroke="#000" stroke-width="0.6"/>
<text transform="translate(469.80 144.72) scale(0.92 1)" font-size="7.4" font-weight="bold" text-anchor="start" fill="#111">10 mg/kg</text>
<line x1="455.10" y1="154.75" x2="468.40" y2="154.75" stroke="#000" stroke-width="1.5"/>
<rect x="460.05" y="153.05" width="3.40" height="3.40" fill="#fff" stroke="#000" stroke-width="0.6"/>
<text transform="translate(469.80 157.25) scale(0.92 1)" font-size="7.4" font-weight="bold" text-anchor="start" fill="#111">30 mg/kg</text>
<line x1="96.25" y1="179.00" x2="96.25" y2="188.00" stroke="#666" stroke-width="0.5"/>
<line x1="95.25" y1="179.00" x2="97.25" y2="179.00" stroke="#666" stroke-width="0.5"/>
<line x1="95.25" y1="188.00" x2="97.25" y2="188.00" stroke="#666" stroke-width="0.5"/>
<line x1="120.05" y1="176.50" x2="120.05" y2="189.00" stroke="#666" stroke-width="0.6"/>
<line x1="118.75" y1="176.50" x2="121.35" y2="176.50" stroke="#666" stroke-width="0.6"/>
<line x1="118.75" y1="189.00" x2="121.35" y2="189.00" stroke="#666" stroke-width="0.6"/>
<line x1="137.90" y1="178.00" x2="137.90" y2="190.00" stroke="#666" stroke-width="0.6"/>
<line x1="136.60" y1="178.00" x2="139.20" y2="178.00" stroke="#666" stroke-width="0.6"/>
<line x1="136.60" y1="190.00" x2="139.20" y2="190.00" stroke="#666" stroke-width="0.6"/>
<line x1="55.00" y1="167.50" x2="55.00" y2="216.20" stroke="#888" stroke-width="0.9"/>
<line x1="55.00" y1="216.20" x2="144.70" y2="216.20" stroke="#888" stroke-width="0.9"/>
<line x1="55.00" y1="216.20" x2="56.60" y2="216.20" stroke="#888" stroke-width="0.6"/>
<text transform="translate(47.20 218.90) scale(0.91 1)" font-size="7.6" font-weight="bold" text-anchor="end" fill="#111">70</text>
<line x1="55.00" y1="206.50" x2="56.60" y2="206.50" stroke="#888" stroke-width="0.6"/>
<text transform="translate(47.20 209.20) scale(0.91 1)" font-size="7.6" font-weight="bold" text-anchor="end" fill="#111">80</text>
<line x1="55.00" y1="196.80" x2="56.60" y2="196.80" stroke="#888" stroke-width="0.6"/>
<text transform="translate(47.20 199.50) scale(0.91 1)" font-size="7.6" font-weight="bold" text-anchor="end" fill="#111">90</text>
<line x1="55.00" y1="187.10" x2="56.60" y2="187.10" stroke="#888" stroke-width="0.6"/>
<text transform="translate(47.20 189.80) scale(0.91 1)" font-size="7.6" font-weight="bold" text-anchor="end" fill="#111">100</text>
<line x1="55.00" y1="177.40" x2="56.60" y2="177.40" stroke="#888" stroke-width="0.6"/>
<text transform="translate(47.20 180.10) scale(0.91 1)" font-size="7.6" font-weight="bold" text-anchor="end" fill="#111">110</text>
<line x1="55.00" y1="167.70" x2="56.60" y2="167.70" stroke="#888" stroke-width="0.6"/>
<text transform="translate(47.20 170.40) scale(0.91 1)" font-size="7.6" font-weight="bold" text-anchor="end" fill="#111">120</text>
<line x1="55.00" y1="214.70" x2="55.00" y2="216.20" stroke="#888" stroke-width="0.5"/>
<line x1="60.92" y1="214.70" x2="60.92" y2="216.20" stroke="#888" stroke-width="0.5"/>
<line x1="66.84" y1="214.70" x2="66.84" y2="216.20" stroke="#888" stroke-width="0.5"/>
<line x1="72.76" y1="214.70" x2="72.76" y2="216.20" stroke="#888" stroke-width="0.5"/>
<line x1="78.68" y1="214.70" x2="78.68" y2="216.20" stroke="#888" stroke-width="0.5"/>
<line x1="84.60" y1="214.70" x2="84.60" y2="216.20" stroke="#888" stroke-width="0.5"/>
<line x1="90.52" y1="214.70" x2="90.52" y2="216.20" stroke="#888" stroke-width="0.5"/>
<line x1="96.44" y1="214.70" x2="96.44" y2="216.20" stroke="#888" stroke-width="0.5"/>
<line x1="102.36" y1="214.70" x2="102.36" y2="216.20" stroke="#888" stroke-width="0.5"/>
<line x1="108.28" y1="214.70" x2="108.28" y2="216.20" stroke="#888" stroke-width="0.5"/>
<line x1="114.20" y1="214.70" x2="114.20" y2="216.20" stroke="#888" stroke-width="0.5"/>
<line x1="120.12" y1="214.70" x2="120.12" y2="216.20" stroke="#888" stroke-width="0.5"/>
<line x1="126.04" y1="214.70" x2="126.04" y2="216.20" stroke="#888" stroke-width="0.5"/>
<line x1="131.96" y1="214.70" x2="131.96" y2="216.20" stroke="#888" stroke-width="0.5"/>
<line x1="137.88" y1="214.70" x2="137.88" y2="216.20" stroke="#888" stroke-width="0.5"/>
<line x1="143.80" y1="214.70" x2="143.80" y2="216.20" stroke="#888" stroke-width="0.5"/>
<text transform="translate(55.00 226.30) scale(0.91 1)" font-size="7.6" font-weight="bold" text-anchor="middle" fill="#111">22</text>
<text transform="translate(66.84 226.30) scale(0.91 1)" font-size="7.6" font-weight="bold" text-anchor="middle" fill="#111">24</text>
<text transform="translate(78.68 226.30) scale(0.91 1)" font-size="7.6" font-weight="bold" text-anchor="middle" fill="#111">26</text>
<text transform="translate(90.52 226.30) scale(0.91 1)" font-size="7.6" font-weight="bold" text-anchor="middle" fill="#111">28</text>
<text transform="translate(102.36 226.30) scale(0.91 1)" font-size="7.6" font-weight="bold" text-anchor="middle" fill="#111">30</text>
<text transform="translate(114.20 226.30) scale(0.91 1)" font-size="7.6" font-weight="bold" text-anchor="middle" fill="#111">32</text>
<text transform="translate(126.04 226.30) scale(0.91 1)" font-size="7.6" font-weight="bold" text-anchor="middle" fill="#111">34</text>
<text transform="translate(137.88 226.30) scale(0.91 1)" font-size="7.6" font-weight="bold" text-anchor="middle" fill="#111">36</text>
<polyline points="55.00,187.20 78.68,185.60 96.44,184.20 120.12,185.60 137.88,187.20" fill="none" stroke="#000" stroke-width="1.0" stroke-linejoin="round"/>
<polyline points="55.00,187.20 78.68,185.30 96.44,183.60 120.12,181.90 137.88,182.70" fill="none" stroke="#000" stroke-width="1.6" stroke-linejoin="round"/>
<polyline points="55.00,187.20 78.68,185.00 96.44,183.80 120.12,183.20 137.88,183.60" fill="none" stroke="#000" stroke-width="1.3" stroke-linejoin="round"/>
<polyline points="55.00,187.20 78.68,185.20 96.44,184.00 120.12,183.00 137.88,183.90" fill="none" stroke="#000" stroke-width="1.3" stroke-linejoin="round"/>
<polyline points="55.00,187.20 78.68,184.80 96.44,183.60 120.12,182.70 137.88,183.80" fill="none" stroke="#000" stroke-width="1.6" stroke-linejoin="round"/>
<path d="M55.00 184.45L57.75 187.20L55.00 189.95L52.25 187.20Z" fill="#fff" stroke="#000" stroke-width="0.8"/>
<path d="M78.68 182.85L81.43 185.60L78.68 188.35L75.93 185.60Z" fill="#fff" stroke="#000" stroke-width="0.8"/>
<path d="M96.44 181.45L99.19 184.20L96.44 186.95L93.69 184.20Z" fill="#fff" stroke="#000" stroke-width="0.8"/>
<path d="M120.12 182.85L122.87 185.60L120.12 188.35L117.37 185.60Z" fill="#fff" stroke="#000" stroke-width="0.8"/>
<path d="M137.88 184.45L140.63 187.20L137.88 189.95L135.13 187.20Z" fill="#fff" stroke="#000" stroke-width="0.8"/>
<path d="M55.00 184.45L57.75 187.20L55.00 189.95L52.25 187.20Z" fill="#000" stroke="#000" stroke-width="0.8"/>
<path d="M78.68 182.55L81.43 185.30L78.68 188.05L75.93 185.30Z" fill="#000" stroke="#000" stroke-width="0.8"/>
<path d="M96.44 180.85L99.19 183.60L96.44 186.35L93.69 183.60Z" fill="#000" stroke="#000" stroke-width="0.8"/>
<path d="M120.12 179.15L122.87 181.90L120.12 184.65L117.37 181.90Z" fill="#000" stroke="#000" stroke-width="0.8"/>
<path d="M137.88 179.95L140.63 182.70L137.88 185.45L135.13 182.70Z" fill="#000" stroke="#000" stroke-width="0.8"/>
<circle cx="55.00" cy="187.20" r="2.90" fill="#fff" stroke="#000" stroke-width="0.8"/>
<circle cx="78.68" cy="185.00" r="2.90" fill="#fff" stroke="#000" stroke-width="0.8"/>
<circle cx="96.44" cy="183.80" r="2.90" fill="#fff" stroke="#000" stroke-width="0.8"/>
<circle cx="120.12" cy="183.20" r="2.90" fill="#fff" stroke="#000" stroke-width="0.8"/>
<circle cx="137.88" cy="183.60" r="2.90" fill="#fff" stroke="#000" stroke-width="0.8"/>
<path d="M55.00 184.45L57.75 189.95L52.25 189.95Z" fill="#fff" stroke="#000" stroke-width="0.8"/>
<path d="M78.68 182.45L81.43 187.95L75.93 187.95Z" fill="#fff" stroke="#000" stroke-width="0.8"/>
<path d="M96.44 181.25L99.19 186.75L93.69 186.75Z" fill="#fff" stroke="#000" stroke-width="0.8"/>
<path d="M120.12 180.25L122.87 185.75L117.37 185.75Z" fill="#fff" stroke="#000" stroke-width="0.8"/>
<path d="M137.88 181.15L140.63 186.65L135.13 186.65Z" fill="#fff" stroke="#000" stroke-width="0.8"/>
<rect x="51.70" y="183.90" width="6.60" height="6.60" fill="#fff" stroke="#000" stroke-width="0.8"/>
<rect x="75.38" y="181.50" width="6.60" height="6.60" fill="#fff" stroke="#000" stroke-width="0.8"/>
<rect x="93.14" y="180.30" width="6.60" height="6.60" fill="#fff" stroke="#000" stroke-width="0.8"/>
<rect x="116.82" y="179.40" width="6.60" height="6.60" fill="#fff" stroke="#000" stroke-width="0.8"/>
<rect x="134.58" y="180.50" width="6.60" height="6.60" fill="#fff" stroke="#000" stroke-width="0.8"/>
<text transform="translate(99.50 158.60) scale(0.913 1)" font-size="7.5" font-weight="bold" text-anchor="middle" fill="#111">Days after the inoculation</text>
<text transform="translate(89.30 242.10) scale(0.913 1)" font-size="7.5" font-weight="bold" text-anchor="middle" fill="#111">Days after the inoculation</text>
<line x1="199.50" y1="163.00" x2="199.50" y2="214.00" stroke="#666" stroke-width="0.9"/>
<line x1="199.50" y1="214.00" x2="292.50" y2="214.00" stroke="#666" stroke-width="0.9"/>
<line x1="199.50" y1="214.00" x2="201.10" y2="214.00" stroke="#666" stroke-width="0.6"/>
<text transform="translate(193.40 216.70) scale(0.91 1)" font-size="7.6" font-weight="bold" text-anchor="end" fill="#111">70</text>
<line x1="199.50" y1="204.00" x2="201.10" y2="204.00" stroke="#666" stroke-width="0.6"/>
<text transform="translate(193.40 206.70) scale(0.91 1)" font-size="7.6" font-weight="bold" text-anchor="end" fill="#111">80</text>
<line x1="199.50" y1="194.00" x2="201.10" y2="194.00" stroke="#666" stroke-width="0.6"/>
<text transform="translate(193.40 196.70) scale(0.91 1)" font-size="7.6" font-weight="bold" text-anchor="end" fill="#111">90</text>
<line x1="199.50" y1="184.00" x2="201.10" y2="184.00" stroke="#666" stroke-width="0.6"/>
<text transform="translate(193.40 186.70) scale(0.91 1)" font-size="7.6" font-weight="bold" text-anchor="end" fill="#111">100</text>
<line x1="199.50" y1="174.00" x2="201.10" y2="174.00" stroke="#666" stroke-width="0.6"/>
<text transform="translate(193.40 176.70) scale(0.91 1)" font-size="7.6" font-weight="bold" text-anchor="end" fill="#111">110</text>
<line x1="199.50" y1="164.00" x2="201.10" y2="164.00" stroke="#666" stroke-width="0.6"/>
<text transform="translate(193.40 166.70) scale(0.91 1)" font-size="7.6" font-weight="bold" text-anchor="end" fill="#111">120</text>
<line x1="199.50" y1="212.50" x2="199.50" y2="214.00" stroke="#666" stroke-width="0.5"/>
<line x1="207.73" y1="212.50" x2="207.73" y2="214.00" stroke="#666" stroke-width="0.5"/>
<line x1="215.96" y1="212.50" x2="215.96" y2="214.00" stroke="#666" stroke-width="0.5"/>
<line x1="224.19" y1="212.50" x2="224.19" y2="214.00" stroke="#666" stroke-width="0.5"/>
<line x1="232.42" y1="212.50" x2="232.42" y2="214.00" stroke="#666" stroke-width="0.5"/>
<line x1="240.65" y1="212.50" x2="240.65" y2="214.00" stroke="#666" stroke-width="0.5"/>
<line x1="248.88" y1="212.50" x2="248.88" y2="214.00" stroke="#666" stroke-width="0.5"/>
<line x1="257.11" y1="212.50" x2="257.11" y2="214.00" stroke="#666" stroke-width="0.5"/>
<line x1="265.34" y1="212.50" x2="265.34" y2="214.00" stroke="#666" stroke-width="0.5"/>
<line x1="273.57" y1="212.50" x2="273.57" y2="214.00" stroke="#666" stroke-width="0.5"/>
<line x1="281.80" y1="212.50" x2="281.80" y2="214.00" stroke="#666" stroke-width="0.5"/>
<line x1="290.03" y1="212.50" x2="290.03" y2="214.00" stroke="#666" stroke-width="0.5"/>
<text transform="translate(199.50 225.60) scale(0.91 1)" font-size="7.6" font-weight="bold" text-anchor="middle" fill="#111">8</text>
<text transform="translate(215.96 225.60) scale(0.91 1)" font-size="7.6" font-weight="bold" text-anchor="middle" fill="#111">10</text>
<text transform="translate(232.42 225.60) scale(0.91 1)" font-size="7.6" font-weight="bold" text-anchor="middle" fill="#111">12</text>
<text transform="translate(248.88 225.60) scale(0.91 1)" font-size="7.6" font-weight="bold" text-anchor="middle" fill="#111">14</text>
<text transform="translate(265.34 225.60) scale(0.91 1)" font-size="7.6" font-weight="bold" text-anchor="middle" fill="#111">16</text>
<text transform="translate(281.80 225.60) scale(0.91 1)" font-size="7.6" font-weight="bold" text-anchor="middle" fill="#111">18</text>
<polyline points="199.50,184.00 224.19,189.00 257.11,195.50 281.80,196.00" fill="none" stroke="#000" stroke-width="1.4" stroke-linejoin="round"/>
<polyline points="199.50,184.00 224.19,187.00 257.11,193.00 281.80,191.30" fill="none" stroke="#000" stroke-width="1.6" stroke-linejoin="round"/>
<polyline points="199.50,184.00 224.19,186.00 257.11,192.50 281.80,196.30" fill="none" stroke="#000" stroke-width="1.4" stroke-linejoin="round"/>
<polyline points="199.50,184.00 224.19,185.00 257.11,187.50 281.80,191.80" fill="none" stroke="#000" stroke-width="1.4" stroke-linejoin="round"/>
<polyline points="199.50,184.00 224.19,182.50 257.11,181.80 281.80,182.50" fill="none" stroke="#000" stroke-width="1.7" stroke-linejoin="round"/>
<polyline points="199.50,184.00 224.19,181.80 257.11,180.00 281.80,178.30" fill="none" stroke="#000" stroke-width="1.8" stroke-linejoin="round"/>
<path d="M197.00 181.50L202.00 186.50M197.00 186.50L202.00 181.50" fill="none" stroke="#222" stroke-width="0.8"/>
<path d="M221.69 186.50L226.69 191.50M221.69 191.50L226.69 186.50" fill="none" stroke="#222" stroke-width="0.8"/>
<path d="M254.61 193.00L259.61 198.00M254.61 198.00L259.61 193.00" fill="none" stroke="#222" stroke-width="0.8"/>
<path d="M279.30 193.50L284.30 198.50M279.30 198.50L284.30 193.50" fill="none" stroke="#222" stroke-width="0.8"/>
<path d="M199.50 181.10L202.40 184.00L199.50 186.90L196.60 184.00Z" fill="#000" stroke="#000" stroke-width="0.8"/>
<path d="M224.19 184.10L227.09 187.00L224.19 189.90L221.29 187.00Z" fill="#000" stroke="#000" stroke-width="0.8"/>
<path d="M257.11 190.10L260.01 193.00L257.11 195.90L254.21 193.00Z" fill="#000" stroke="#000" stroke-width="0.8"/>
<path d="M281.80 188.40L284.70 191.30L281.80 194.20L278.90 191.30Z" fill="#000" stroke="#000" stroke-width="0.8"/>
<path d="M199.50 181.00L202.50 184.00L199.50 187.00L196.50 184.00Z" fill="#fff" stroke="#000" stroke-width="0.8"/>
<path d="M224.19 183.00L227.19 186.00L224.19 189.00L221.19 186.00Z" fill="#fff" stroke="#000" stroke-width="0.8"/>
<path d="M257.11 189.50L260.11 192.50L257.11 195.50L254.11 192.50Z" fill="#fff" stroke="#000" stroke-width="0.8"/>
<path d="M281.80 193.30L284.80 196.30L281.80 199.30L278.80 196.30Z" fill="#fff" stroke="#000" stroke-width="0.8"/>
<circle cx="199.50" cy="184.00" r="3.00" fill="#fff" stroke="#000" stroke-width="0.8"/>
<circle cx="224.19" cy="185.00" r="3.00" fill="#fff" stroke="#000" stroke-width="0.8"/>
<circle cx="257.11" cy="187.50" r="3.00" fill="#fff" stroke="#000" stroke-width="0.8"/>
<circle cx="281.80" cy="191.80" r="3.00" fill="#fff" stroke="#000" stroke-width="0.8"/>
<path d="M199.50 181.20L202.30 186.80L196.70 186.80Z" fill="#fff" stroke="#000" stroke-width="0.8"/>
<path d="M224.19 179.70L226.99 185.30L221.39 185.30Z" fill="#fff" stroke="#000" stroke-width="0.8"/>
<path d="M257.11 179.00L259.91 184.60L254.31 184.60Z" fill="#fff" stroke="#000" stroke-width="0.8"/>
<path d="M281.80 179.70L284.60 185.30L279.00 185.30Z" fill="#fff" stroke="#000" stroke-width="0.8"/>
<rect x="196.30" y="180.80" width="6.40" height="6.40" fill="#fff" stroke="#000" stroke-width="0.8"/>
<rect x="220.99" y="178.60" width="6.40" height="6.40" fill="#fff" stroke="#000" stroke-width="0.8"/>
<rect x="253.91" y="176.80" width="6.40" height="6.40" fill="#fff" stroke="#000" stroke-width="0.8"/>
<rect x="278.60" y="175.10" width="6.40" height="6.40" fill="#fff" stroke="#000" stroke-width="0.8"/>
<text transform="translate(243.30 157.00) scale(0.913 1)" font-size="7.5" font-weight="bold" text-anchor="middle" fill="#111">Days after the inoculation</text>
<text transform="translate(234.80 240.40) scale(0.913 1)" font-size="7.5" font-weight="bold" text-anchor="middle" fill="#111">Days after the inoculation</text>
<line x1="355.00" y1="161.50" x2="355.00" y2="210.20" stroke="#666" stroke-width="0.9"/>
<line x1="355.00" y1="210.20" x2="441.30" y2="210.20" stroke="#666" stroke-width="0.9"/>
<line x1="355.00" y1="210.20" x2="356.60" y2="210.20" stroke="#666" stroke-width="0.6"/>
<text transform="translate(349.30 212.90) scale(0.91 1)" font-size="7.6" font-weight="bold" text-anchor="end" fill="#111">70</text>
<line x1="355.00" y1="200.74" x2="356.60" y2="200.74" stroke="#666" stroke-width="0.6"/>
<text transform="translate(349.30 203.44) scale(0.91 1)" font-size="7.6" font-weight="bold" text-anchor="end" fill="#111">80</text>
<line x1="355.00" y1="191.28" x2="356.60" y2="191.28" stroke="#666" stroke-width="0.6"/>
<text transform="translate(349.30 193.98) scale(0.91 1)" font-size="7.6" font-weight="bold" text-anchor="end" fill="#111">90</text>
<line x1="355.00" y1="181.82" x2="356.60" y2="181.82" stroke="#666" stroke-width="0.6"/>
<text transform="translate(349.30 184.52) scale(0.91 1)" font-size="7.6" font-weight="bold" text-anchor="end" fill="#111">100</text>
<line x1="355.00" y1="172.36" x2="356.60" y2="172.36" stroke="#666" stroke-width="0.6"/>
<text transform="translate(349.30 175.06) scale(0.91 1)" font-size="7.6" font-weight="bold" text-anchor="end" fill="#111">110</text>
<line x1="355.00" y1="162.90" x2="356.60" y2="162.90" stroke="#666" stroke-width="0.6"/>
<text transform="translate(349.30 165.60) scale(0.91 1)" font-size="7.6" font-weight="bold" text-anchor="end" fill="#111">120</text>
<line x1="355.00" y1="208.70" x2="355.00" y2="210.20" stroke="#666" stroke-width="0.5"/>
<line x1="362.82" y1="208.70" x2="362.82" y2="210.20" stroke="#666" stroke-width="0.5"/>
<line x1="370.64" y1="208.70" x2="370.64" y2="210.20" stroke="#666" stroke-width="0.5"/>
<line x1="378.46" y1="208.70" x2="378.46" y2="210.20" stroke="#666" stroke-width="0.5"/>
<line x1="386.28" y1="208.70" x2="386.28" y2="210.20" stroke="#666" stroke-width="0.5"/>
<line x1="394.10" y1="208.70" x2="394.10" y2="210.20" stroke="#666" stroke-width="0.5"/>
<line x1="401.92" y1="208.70" x2="401.92" y2="210.20" stroke="#666" stroke-width="0.5"/>
<line x1="409.74" y1="208.70" x2="409.74" y2="210.20" stroke="#666" stroke-width="0.5"/>
<line x1="417.56" y1="208.70" x2="417.56" y2="210.20" stroke="#666" stroke-width="0.5"/>
<line x1="425.38" y1="208.70" x2="425.38" y2="210.20" stroke="#666" stroke-width="0.5"/>
<line x1="433.20" y1="208.70" x2="433.20" y2="210.20" stroke="#666" stroke-width="0.5"/>
<line x1="441.02" y1="208.70" x2="441.02" y2="210.20" stroke="#666" stroke-width="0.5"/>
<text transform="translate(355.00 221.00) scale(0.91 1)" font-size="7.6" font-weight="bold" text-anchor="middle" fill="#111">11</text>
<text transform="translate(370.64 221.00) scale(0.91 1)" font-size="7.6" font-weight="bold" text-anchor="middle" fill="#111">13</text>
<text transform="translate(386.28 221.00) scale(0.91 1)" font-size="7.6" font-weight="bold" text-anchor="middle" fill="#111">15</text>
<text transform="translate(401.92 221.00) scale(0.91 1)" font-size="7.6" font-weight="bold" text-anchor="middle" fill="#111">17</text>
<text transform="translate(417.56 221.00) scale(0.91 1)" font-size="7.6" font-weight="bold" text-anchor="middle" fill="#111">19</text>
<text transform="translate(433.20 221.00) scale(0.91 1)" font-size="7.6" font-weight="bold" text-anchor="middle" fill="#111">21</text>
<polyline points="355.00,181.30 386.28,181.40 409.74,180.60 433.20,178.90" fill="none" stroke="#000" stroke-width="1.2" stroke-linejoin="round"/>
<polyline points="355.00,181.30 386.28,181.60 409.74,181.20 433.20,181.20" fill="none" stroke="#000" stroke-width="1.0" stroke-linejoin="round"/>
<polyline points="355.00,181.30 386.28,181.20 409.74,180.00 433.20,181.90" fill="none" stroke="#000" stroke-width="1.0" stroke-linejoin="round"/>
<polyline points="355.00,181.30 386.28,183.20 409.74,182.40 433.20,181.40" fill="none" stroke="#000" stroke-width="1.0" stroke-linejoin="round"/>
<polyline points="355.00,181.30 386.28,180.20 409.74,183.40 433.20,181.60" fill="none" stroke="#000" stroke-width="1.3" stroke-linejoin="round"/>
<path d="M355.00 178.40L357.90 181.30L355.00 184.20L352.10 181.30Z" fill="#000" stroke="#000" stroke-width="0.8"/>
<path d="M386.28 178.50L389.18 181.40L386.28 184.30L383.38 181.40Z" fill="#000" stroke="#000" stroke-width="0.8"/>
<path d="M409.74 177.70L412.64 180.60L409.74 183.50L406.84 180.60Z" fill="#000" stroke="#000" stroke-width="0.8"/>
<path d="M433.20 176.00L436.10 178.90L433.20 181.80L430.30 178.90Z" fill="#000" stroke="#000" stroke-width="0.8"/>
<path d="M355.00 178.30L358.00 181.30L355.00 184.30L352.00 181.30Z" fill="#fff" stroke="#000" stroke-width="0.8"/>
<path d="M386.28 178.60L389.28 181.60L386.28 184.60L383.28 181.60Z" fill="#fff" stroke="#000" stroke-width="0.8"/>
<path d="M409.74 178.20L412.74 181.20L409.74 184.20L406.74 181.20Z" fill="#fff" stroke="#000" stroke-width="0.8"/>
<path d="M433.20 178.20L436.20 181.20L433.20 184.20L430.20 181.20Z" fill="#fff" stroke="#000" stroke-width="0.8"/>
<circle cx="355.00" cy="181.30" r="3.00" fill="#fff" stroke="#000" stroke-width="0.8"/>
<circle cx="386.28" cy="181.20" r="3.00" fill="#fff" stroke="#000" stroke-width="0.8"/>
<circle cx="409.74" cy="180.00" r="3.00" fill="#fff" stroke="#000" stroke-width="0.8"/>
<circle cx="433.20" cy="181.90" r="3.00" fill="#fff" stroke="#000" stroke-width="0.8"/>
<path d="M355.00 178.50L357.80 184.10L352.20 184.10Z" fill="#fff" stroke="#000" stroke-width="0.8"/>
<path d="M386.28 180.40L389.08 186.00L383.48 186.00Z" fill="#fff" stroke="#000" stroke-width="0.8"/>
<path d="M409.74 179.60L412.54 185.20L406.94 185.20Z" fill="#fff" stroke="#000" stroke-width="0.8"/>
<path d="M433.20 178.60L436.00 184.20L430.40 184.20Z" fill="#fff" stroke="#000" stroke-width="0.8"/>
<rect x="351.80" y="178.10" width="6.40" height="6.40" fill="#fff" stroke="#000" stroke-width="0.8"/>
<rect x="383.08" y="177.00" width="6.40" height="6.40" fill="#fff" stroke="#000" stroke-width="0.8"/>
<rect x="406.54" y="180.20" width="6.40" height="6.40" fill="#fff" stroke="#000" stroke-width="0.8"/>
<rect x="430.00" y="178.40" width="6.40" height="6.40" fill="#fff" stroke="#000" stroke-width="0.8"/>
<text transform="translate(390.00 158.00) scale(0.913 1)" font-size="7.5" font-weight="bold" text-anchor="middle" fill="#111">Days after the inoculation</text>
<text transform="translate(394.20 242.00) scale(0.913 1)" font-size="7.5" font-weight="bold" text-anchor="middle" fill="#111">Days after the inoculation</text>
<text transform="translate(24.20 191.60) rotate(-90) scale(0.92 1)" font-size="10.2" text-anchor="middle" fill="#222">Body weight (%)</text>
<line x1="55.10" y1="275.40" x2="55.10" y2="390.40" stroke="#999" stroke-width="0.7"/>
<line x1="55.10" y1="390.40" x2="222.02" y2="390.40" stroke="#999" stroke-width="0.7"/>
<line x1="55.10" y1="390.40" x2="56.90" y2="390.40" stroke="#aaa" stroke-width="0.7"/>
<text transform="translate(48.00 393.20) scale(0.88 1)" font-size="8.4" text-anchor="end" fill="#222">0</text>
<line x1="55.10" y1="374.10" x2="56.90" y2="374.10" stroke="#aaa" stroke-width="0.7"/>
<line x1="55.10" y1="357.80" x2="56.90" y2="357.80" stroke="#aaa" stroke-width="0.7"/>
<text transform="translate(48.00 360.60) scale(0.88 1)" font-size="8.4" text-anchor="end" fill="#222">200</text>
<line x1="55.10" y1="341.50" x2="56.90" y2="341.50" stroke="#aaa" stroke-width="0.7"/>
<line x1="55.10" y1="325.20" x2="56.90" y2="325.20" stroke="#aaa" stroke-width="0.7"/>
<text transform="translate(48.00 328.00) scale(0.88 1)" font-size="8.4" text-anchor="end" fill="#222">400</text>
<line x1="55.10" y1="308.90" x2="56.90" y2="308.90" stroke="#aaa" stroke-width="0.7"/>
<line x1="55.10" y1="292.60" x2="56.90" y2="292.60" stroke="#aaa" stroke-width="0.7"/>
<text transform="translate(48.00 295.40) scale(0.88 1)" font-size="8.4" text-anchor="end" fill="#222">600</text>
<line x1="55.10" y1="276.30" x2="56.90" y2="276.30" stroke="#aaa" stroke-width="0.7"/>
<path d="M55.10 389.30L56.85 393.80L53.35 393.80Z" fill="#000"/>
<path d="M60.99 389.30L62.74 393.80L59.24 393.80Z" fill="#000"/>
<path d="M66.88 389.30L68.63 393.80L65.13 393.80Z" fill="#000"/>
<path d="M72.77 389.30L74.52 393.80L71.02 393.80Z" fill="#000"/>
<path d="M78.66 389.30L80.41 393.80L76.91 393.80Z" fill="#000"/>
<path d="M84.55 389.30L86.30 393.80L82.80 393.80Z" fill="#000"/>
<path d="M90.44 389.30L92.19 393.80L88.69 393.80Z" fill="#000"/>
<path d="M96.33 389.30L98.08 393.80L94.58 393.80Z" fill="#000"/>
<path d="M102.22 389.30L103.97 393.80L100.47 393.80Z" fill="#000"/>
<path d="M108.11 389.30L109.86 393.80L106.36 393.80Z" fill="#000"/>
<path d="M114.00 389.30L115.75 393.80L112.25 393.80Z" fill="#000"/>
<path d="M119.89 389.30L121.64 393.80L118.14 393.80Z" fill="#000"/>
<path d="M125.78 389.30L127.53 393.80L124.03 393.80Z" fill="#000"/>
<path d="M131.67 389.30L133.42 393.80L129.92 393.80Z" fill="#000"/>
<path d="M137.56 389.30L139.31 393.80L135.81 393.80Z" fill="#000"/>
<path d="M143.45 389.30L145.20 393.80L141.70 393.80Z" fill="#000"/>
<path d="M149.34 389.30L151.09 393.80L147.59 393.80Z" fill="#000"/>
<path d="M155.23 389.30L156.98 393.80L153.48 393.80Z" fill="#000"/>
<path d="M161.12 389.30L162.87 393.80L159.37 393.80Z" fill="#000"/>
<path d="M167.01 389.30L168.76 393.80L165.26 393.80Z" fill="#000"/>
<path d="M172.90 389.30L174.65 393.80L171.15 393.80Z" fill="#000"/>
<path d="M178.79 389.30L180.54 393.80L177.04 393.80Z" fill="#000"/>
<path d="M184.68 389.30L186.43 393.80L182.93 393.80Z" fill="#000"/>
<path d="M190.57 389.30L192.32 393.80L188.82 393.80Z" fill="#000"/>
<path d="M196.46 389.30L198.21 393.80L194.71 393.80Z" fill="#000"/>
<path d="M202.35 389.30L204.10 393.80L200.60 393.80Z" fill="#000"/>
<path d="M208.24 389.30L209.99 393.80L206.49 393.80Z" fill="#000"/>
<path d="M214.13 389.30L215.88 393.80L212.38 393.80Z" fill="#000"/>
<text transform="translate(55.10 401.10) scale(0.88 1)" font-size="8.4" text-anchor="middle" fill="#222">10</text>
<text transform="translate(96.33 401.10) scale(0.88 1)" font-size="8.4" text-anchor="middle" fill="#222">17</text>
<text transform="translate(137.56 401.10) scale(0.88 1)" font-size="8.4" text-anchor="middle" fill="#222">24</text>
<text transform="translate(178.79 401.10) scale(0.88 1)" font-size="8.4" text-anchor="middle" fill="#222">31</text>
<text transform="translate(220.02 401.10) scale(0.88 1)" font-size="8.4" text-anchor="middle" fill="#222">38</text>
<text x="138.70" y="415.10" font-size="8.55" text-anchor="middle" fill="#222">Days after the inoculation</text>
<text x="24.40" y="333.40" font-size="8.6" text-anchor="middle" fill="#222" transform="rotate(-90 24.40 333.40)">Tumor volume (mm<tspan dy="-2.6" font-size="5.4">3</tspan><tspan dy="2.6">)</tspan></text>
<line x1="78.66" y1="316.00" x2="78.66" y2="327.50" stroke="#999" stroke-width="0.8"/>
<line x1="75.96" y1="316.00" x2="81.36" y2="316.00" stroke="#999" stroke-width="0.8"/>
<line x1="75.96" y1="327.50" x2="81.36" y2="327.50" stroke="#999" stroke-width="0.8"/>
<line x1="96.33" y1="300.00" x2="96.33" y2="319.00" stroke="#999" stroke-width="0.8"/>
<line x1="93.63" y1="300.00" x2="99.03" y2="300.00" stroke="#999" stroke-width="0.8"/>
<line x1="93.63" y1="319.00" x2="99.03" y2="319.00" stroke="#999" stroke-width="0.8"/>
<line x1="114.00" y1="290.00" x2="114.00" y2="301.50" stroke="#999" stroke-width="0.8"/>
<line x1="111.30" y1="290.00" x2="116.70" y2="290.00" stroke="#999" stroke-width="0.8"/>
<line x1="111.30" y1="301.50" x2="116.70" y2="301.50" stroke="#999" stroke-width="0.8"/>
<line x1="78.66" y1="355.50" x2="78.66" y2="366.50" stroke="#999" stroke-width="0.8"/>
<line x1="75.96" y1="355.50" x2="81.36" y2="355.50" stroke="#999" stroke-width="0.8"/>
<line x1="75.96" y1="366.50" x2="81.36" y2="366.50" stroke="#999" stroke-width="0.8"/>
<line x1="96.33" y1="373.00" x2="96.33" y2="378.50" stroke="#999" stroke-width="0.8"/>
<line x1="93.63" y1="373.00" x2="99.03" y2="373.00" stroke="#999" stroke-width="0.8"/>
<line x1="93.63" y1="378.50" x2="99.03" y2="378.50" stroke="#999" stroke-width="0.8"/>
<polyline points="55.10,336.20 78.66,321.60 96.33,310.00 114.00,295.80" fill="none" stroke="#000" stroke-width="1.3" stroke-linejoin="round"/>
<polyline points="55.10,336.20 78.66,361.30 96.33,375.80 114.00,380.90 137.56,382.30 161.12,383.70 178.79,383.90 202.35,385.50 220.02,385.90" fill="none" stroke="#000" stroke-width="1.3" stroke-linejoin="round"/>
<path d="M78.66 317.90L82.36 321.60L78.66 325.30L74.96 321.60Z" fill="#000" stroke="#000" stroke-width="0.5"/>
<path d="M96.33 306.30L100.03 310.00L96.33 313.70L92.63 310.00Z" fill="#000" stroke="#000" stroke-width="0.5"/>
<path d="M114.00 292.10L117.70 295.80L114.00 299.50L110.30 295.80Z" fill="#000" stroke="#000" stroke-width="0.5"/>
<circle cx="55.10" cy="336.20" r="3.20" fill="#fff" stroke="#000" stroke-width="1.3"/>
<circle cx="78.66" cy="361.30" r="3.20" fill="#fff" stroke="#000" stroke-width="1.3"/>
<circle cx="96.33" cy="375.80" r="3.20" fill="#fff" stroke="#000" stroke-width="1.3"/>
<circle cx="114.00" cy="380.90" r="3.20" fill="#fff" stroke="#000" stroke-width="1.3"/>
<circle cx="137.56" cy="382.30" r="3.20" fill="#fff" stroke="#000" stroke-width="1.3"/>
<circle cx="161.12" cy="383.70" r="3.20" fill="#fff" stroke="#000" stroke-width="1.3"/>
<circle cx="178.79" cy="383.90" r="3.20" fill="#fff" stroke="#000" stroke-width="1.3"/>
<circle cx="202.35" cy="385.50" r="3.20" fill="#fff" stroke="#000" stroke-width="1.3"/>
<circle cx="220.02" cy="385.90" r="3.20" fill="#fff" stroke="#000" stroke-width="1.3"/>
<line x1="149.70" y1="306.10" x2="170.60" y2="306.10" stroke="#000" stroke-width="1.3"/>
<path d="M160.20 302.40L163.90 306.10L160.20 309.80L156.50 306.10Z" fill="#000" stroke="#000" stroke-width="0.5"/>
<text x="172.90" y="309.90" font-size="10.8" text-anchor="start" fill="#111">Vehicle</text>
<line x1="149.70" y1="327.10" x2="170.60" y2="327.10" stroke="#000" stroke-width="1.3"/>
<circle cx="160.20" cy="327.10" r="3.20" fill="#fff" stroke="#000" stroke-width="1.3"/>
<text x="172.90" y="330.90" font-size="10.7" text-anchor="start" fill="#111">CH288</text>
<text transform="translate(290.00 282.80) scale(0.95 1)" font-size="10" text-anchor="end" fill="#222">Dose</text>
<text transform="translate(290.00 294.00) scale(0.95 1)" font-size="10" text-anchor="end" fill="#222">(mg/kg)</text>
<line x1="303.80" y1="295.90" x2="343.70" y2="295.90" stroke="#111" stroke-width="1.4"/>
<text x="323.75" y="288.50" font-size="10.2" text-anchor="middle" fill="#111">0</text>
<line x1="347.20" y1="295.90" x2="385.90" y2="295.90" stroke="#111" stroke-width="1.4"/>
<text x="366.55" y="288.50" font-size="10.2" text-anchor="middle" fill="#111">1</text>
<line x1="389.40" y1="295.90" x2="429.00" y2="295.90" stroke="#111" stroke-width="1.4"/>
<text x="409.20" y="288.50" font-size="10.2" text-anchor="middle" fill="#111">3</text>
<line x1="432.00" y1="295.90" x2="471.50" y2="295.90" stroke="#111" stroke-width="1.4"/>
<text x="451.75" y="288.50" font-size="10.2" text-anchor="middle" fill="#111">10</text>
<line x1="475.00" y1="295.90" x2="514.60" y2="295.90" stroke="#111" stroke-width="1.4"/>
<text x="494.80" y="288.50" font-size="10.2" text-anchor="middle" fill="#111">30</text>
<text x="292.40" y="313.30" font-size="10.5" text-anchor="end" fill="#111">p-TRK</text>
<svg x="298.3" y="300.70" width="219.5" height="16.80" viewBox="298.3 300.70 219.5 16.80" overflow="hidden">
<rect x="298.3" y="300.70" width="219.5" height="16.80" fill="#ececec"/>
<rect x="300.20" y="304.80" width="17.20" height="7.80" rx="3.90" fill="#000" opacity="1.00" filter="url(#b1)"/>
<rect x="301.80" y="306.00" width="14.00" height="5.40" rx="2.70" fill="#000" opacity="1.00" filter="url(#b1)"/>
<rect x="317.50" y="307.00" width="14.20" height="6.40" rx="3.20" fill="#000" opacity="1.00" filter="url(#b1)"/>
<rect x="319.10" y="308.20" width="11.00" height="4.00" rx="2.00" fill="#000" opacity="1.00" filter="url(#b1)"/>
<rect x="332.70" y="307.10" width="12.40" height="6.60" rx="3.30" fill="#000" opacity="1.00" filter="url(#b1)"/>
<rect x="334.15" y="308.40" width="9.50" height="4.00" rx="2.00" fill="#000" opacity="1.00" filter="url(#b1)"/>
<rect x="314.80" y="307.75" width="4.00" height="4.50" rx="2.00" fill="#000" opacity="0.90" filter="url(#b1)"/>
<rect x="329.80" y="308.15" width="4.00" height="4.50" rx="2.00" fill="#000" opacity="0.80" filter="url(#b1)"/>
<rect x="348.50" y="308.75" width="9.00" height="4.50" rx="2.25" fill="#000" opacity="0.10" filter="url(#b2)"/>
<rect x="362.00" y="308.50" width="11.00" height="5.00" rx="2.50" fill="#000" opacity="0.26" filter="url(#b2)"/>
<rect x="376.30" y="308.50" width="10.00" height="5.00" rx="2.50" fill="#000" opacity="0.24" filter="url(#b2)"/>
<rect x="390.50" y="309.00" width="9.00" height="4.00" rx="2.00" fill="#000" opacity="0.04" filter="url(#b2)"/>
<rect x="404.50" y="309.00" width="9.00" height="4.00" rx="2.00" fill="#000" opacity="0.03" filter="url(#b2)"/>
</svg>
<rect x="298.3" y="300.70" width="219.5" height="16.80" fill="none" stroke="#111" stroke-width="1.3"/>
<text x="292.40" y="334.80" font-size="10.5" text-anchor="end" fill="#111">TRK</text>
<svg x="298.3" y="322.30" width="219.5" height="16.60" viewBox="298.3 322.30 219.5 16.60" overflow="hidden">
<rect x="298.3" y="322.30" width="219.5" height="16.60" fill="#f6f6f6"/>
<rect x="303.20" y="328.80" width="11.40" height="3.20" rx="1.60" fill="#000" opacity="0.95" filter="url(#b3)"/>
<rect x="304.90" y="329.50" width="8.00" height="1.80" rx="0.90" fill="#000" opacity="0.76" filter="url(#b3)"/>
<rect x="317.35" y="329.30" width="11.40" height="3.20" rx="1.60" fill="#000" opacity="0.70" filter="url(#b3)"/>
<rect x="319.05" y="330.00" width="8.00" height="1.80" rx="0.90" fill="#000" opacity="0.56" filter="url(#b3)"/>
<rect x="331.50" y="329.10" width="11.40" height="3.20" rx="1.60" fill="#000" opacity="0.70" filter="url(#b3)"/>
<rect x="333.20" y="329.80" width="8.00" height="1.80" rx="0.90" fill="#000" opacity="0.56" filter="url(#b3)"/>
<rect x="345.65" y="329.70" width="11.40" height="3.20" rx="1.60" fill="#000" opacity="0.85" filter="url(#b3)"/>
<rect x="347.35" y="330.40" width="8.00" height="1.80" rx="0.90" fill="#000" opacity="0.68" filter="url(#b3)"/>
<rect x="359.80" y="329.50" width="11.40" height="3.20" rx="1.60" fill="#000" opacity="0.55" filter="url(#b3)"/>
<rect x="361.50" y="330.20" width="8.00" height="1.80" rx="0.90" fill="#000" opacity="0.44" filter="url(#b3)"/>
<rect x="373.95" y="329.40" width="11.40" height="3.20" rx="1.60" fill="#000" opacity="0.70" filter="url(#b3)"/>
<rect x="375.65" y="330.10" width="8.00" height="1.80" rx="0.90" fill="#000" opacity="0.56" filter="url(#b3)"/>
<rect x="388.10" y="329.20" width="11.40" height="3.20" rx="1.60" fill="#000" opacity="0.60" filter="url(#b3)"/>
<rect x="389.80" y="329.90" width="8.00" height="1.80" rx="0.90" fill="#000" opacity="0.48" filter="url(#b3)"/>
<rect x="402.25" y="329.40" width="11.40" height="3.20" rx="1.60" fill="#000" opacity="0.62" filter="url(#b3)"/>
<rect x="403.95" y="330.10" width="8.00" height="1.80" rx="0.90" fill="#000" opacity="0.50" filter="url(#b3)"/>
<rect x="416.40" y="329.30" width="11.40" height="3.20" rx="1.60" fill="#000" opacity="0.62" filter="url(#b3)"/>
<rect x="418.10" y="330.00" width="8.00" height="1.80" rx="0.90" fill="#000" opacity="0.50" filter="url(#b3)"/>
<rect x="430.55" y="329.30" width="11.40" height="3.20" rx="1.60" fill="#000" opacity="0.58" filter="url(#b3)"/>
<rect x="432.25" y="330.00" width="8.00" height="1.80" rx="0.90" fill="#000" opacity="0.46" filter="url(#b3)"/>
<rect x="444.70" y="329.30" width="11.40" height="3.20" rx="1.60" fill="#000" opacity="0.58" filter="url(#b3)"/>
<rect x="446.40" y="330.00" width="8.00" height="1.80" rx="0.90" fill="#000" opacity="0.46" filter="url(#b3)"/>
<rect x="458.85" y="329.10" width="11.40" height="3.20" rx="1.60" fill="#000" opacity="0.62" filter="url(#b3)"/>
<rect x="460.55" y="329.80" width="8.00" height="1.80" rx="0.90" fill="#000" opacity="0.50" filter="url(#b3)"/>
<rect x="473.00" y="329.00" width="11.40" height="3.20" rx="1.60" fill="#000" opacity="0.85" filter="url(#b3)"/>
<rect x="474.70" y="329.70" width="8.00" height="1.80" rx="0.90" fill="#000" opacity="0.68" filter="url(#b3)"/>
<rect x="487.15" y="328.80" width="11.40" height="3.20" rx="1.60" fill="#000" opacity="0.95" filter="url(#b3)"/>
<rect x="488.85" y="329.50" width="8.00" height="1.80" rx="0.90" fill="#000" opacity="0.76" filter="url(#b3)"/>
<rect x="501.30" y="328.60" width="11.40" height="3.20" rx="1.60" fill="#000" opacity="0.95" filter="url(#b3)"/>
<rect x="503.00" y="329.30" width="8.00" height="1.80" rx="0.90" fill="#000" opacity="0.76" filter="url(#b3)"/>
</svg>
<rect x="298.3" y="322.30" width="219.5" height="16.60" fill="none" stroke="#111" stroke-width="1.3"/>
<text x="292.40" y="356.80" font-size="10.5" text-anchor="end" fill="#111">p-PLCγ</text>
<svg x="298.3" y="344.00" width="219.5" height="17.20" viewBox="298.3 344.00 219.5 17.20" overflow="hidden">
<rect x="298.3" y="344.00" width="219.5" height="17.20" fill="#f0f0f0"/>
<rect x="299.80" y="349.30" width="16.80" height="7.80" rx="3.90" fill="#000" opacity="1.00" filter="url(#b1)"/>
<rect x="301.40" y="350.50" width="13.60" height="5.40" rx="2.70" fill="#000" opacity="1.00" filter="url(#b1)"/>
<rect x="317.10" y="349.90" width="13.40" height="7.00" rx="3.50" fill="#000" opacity="1.00" filter="url(#b1)"/>
<rect x="318.55" y="351.20" width="10.50" height="4.40" rx="2.20" fill="#000" opacity="1.00" filter="url(#b1)"/>
<rect x="332.20" y="349.10" width="11.60" height="7.40" rx="3.70" fill="#000" opacity="1.00" filter="url(#b1)"/>
<rect x="333.50" y="350.50" width="9.00" height="4.60" rx="2.30" fill="#000" opacity="1.00" filter="url(#b1)"/>
<rect x="334.60" y="347.10" width="8.00" height="3.00" rx="1.50" fill="#000" opacity="0.35" filter="url(#b2)"/>
<rect x="314.40" y="351.15" width="4.00" height="4.50" rx="2.00" fill="#000" opacity="0.90" filter="url(#b1)"/>
<rect x="329.20" y="351.15" width="4.00" height="4.50" rx="2.00" fill="#000" opacity="0.85" filter="url(#b1)"/>
<rect x="346.35" y="352.80" width="10.00" height="3.60" rx="1.80" fill="#000" opacity="0.22" filter="url(#b2)"/>
<rect x="360.50" y="352.80" width="10.00" height="3.60" rx="1.80" fill="#000" opacity="0.40" filter="url(#b2)"/>
<rect x="374.65" y="352.80" width="10.00" height="3.60" rx="1.80" fill="#000" opacity="0.34" filter="url(#b2)"/>
<rect x="388.80" y="352.80" width="10.00" height="3.60" rx="1.80" fill="#000" opacity="0.12" filter="url(#b2)"/>
<rect x="402.95" y="352.80" width="10.00" height="3.60" rx="1.80" fill="#000" opacity="0.13" filter="url(#b2)"/>
<rect x="417.10" y="352.80" width="10.00" height="3.60" rx="1.80" fill="#000" opacity="0.12" filter="url(#b2)"/>
<rect x="431.25" y="352.80" width="10.00" height="3.60" rx="1.80" fill="#000" opacity="0.06" filter="url(#b2)"/>
<rect x="445.40" y="352.80" width="10.00" height="3.60" rx="1.80" fill="#000" opacity="0.08" filter="url(#b2)"/>
<rect x="459.55" y="352.80" width="10.00" height="3.60" rx="1.80" fill="#000" opacity="0.07" filter="url(#b2)"/>
<rect x="473.70" y="352.80" width="10.00" height="3.60" rx="1.80" fill="#000" opacity="0.07" filter="url(#b2)"/>
<rect x="487.85" y="352.80" width="10.00" height="3.60" rx="1.80" fill="#000" opacity="0.08" filter="url(#b2)"/>
<rect x="502.00" y="352.80" width="10.00" height="3.60" rx="1.80" fill="#000" opacity="0.08" filter="url(#b2)"/>
</svg>
<rect x="298.3" y="344.00" width="219.5" height="17.20" fill="none" stroke="#111" stroke-width="1.3"/>
<text x="292.40" y="378.90" font-size="10.5" text-anchor="end" fill="#111">PLCγ</text>
<svg x="298.3" y="366.20" width="219.5" height="17.00" viewBox="298.3 366.20 219.5 17.00" overflow="hidden">
<rect x="298.3" y="366.20" width="219.5" height="17.00" fill="#f6f6f6"/>
<rect x="303.30" y="373.30" width="11.20" height="3.40" rx="1.70" fill="#000" opacity="0.95" filter="url(#b3)"/>
<rect x="304.90" y="374.05" width="8.00" height="1.90" rx="0.95" fill="#000" opacity="0.76" filter="url(#b3)"/>
<rect x="317.45" y="373.60" width="11.20" height="3.40" rx="1.70" fill="#000" opacity="0.85" filter="url(#b3)"/>
<rect x="319.05" y="374.35" width="8.00" height="1.90" rx="0.95" fill="#000" opacity="0.68" filter="url(#b3)"/>
<rect x="331.60" y="373.20" width="11.20" height="3.40" rx="1.70" fill="#000" opacity="0.55" filter="url(#b3)"/>
<rect x="333.20" y="373.95" width="8.00" height="1.90" rx="0.95" fill="#000" opacity="0.44" filter="url(#b3)"/>
<rect x="345.75" y="373.60" width="11.20" height="3.40" rx="1.70" fill="#000" opacity="0.75" filter="url(#b3)"/>
<rect x="347.35" y="374.35" width="8.00" height="1.90" rx="0.95" fill="#000" opacity="0.60" filter="url(#b3)"/>
<rect x="359.90" y="373.30" width="11.20" height="3.40" rx="1.70" fill="#000" opacity="0.60" filter="url(#b3)"/>
<rect x="361.50" y="374.05" width="8.00" height="1.90" rx="0.95" fill="#000" opacity="0.48" filter="url(#b3)"/>
<rect x="374.05" y="373.10" width="11.20" height="3.40" rx="1.70" fill="#000" opacity="0.75" filter="url(#b3)"/>
<rect x="375.65" y="373.85" width="8.00" height="1.90" rx="0.95" fill="#000" opacity="0.60" filter="url(#b3)"/>
<rect x="388.20" y="372.60" width="11.20" height="3.40" rx="1.70" fill="#000" opacity="0.62" filter="url(#b3)"/>
<rect x="389.80" y="373.35" width="8.00" height="1.90" rx="0.95" fill="#000" opacity="0.50" filter="url(#b3)"/>
<rect x="402.35" y="373.00" width="11.20" height="3.40" rx="1.70" fill="#000" opacity="0.78" filter="url(#b3)"/>
<rect x="403.95" y="373.75" width="8.00" height="1.90" rx="0.95" fill="#000" opacity="0.62" filter="url(#b3)"/>
<rect x="416.50" y="372.40" width="11.20" height="3.40" rx="1.70" fill="#000" opacity="0.78" filter="url(#b3)"/>
<rect x="418.10" y="373.15" width="8.00" height="1.90" rx="0.95" fill="#000" opacity="0.62" filter="url(#b3)"/>
<rect x="430.65" y="372.10" width="11.20" height="3.40" rx="1.70" fill="#000" opacity="0.75" filter="url(#b3)"/>
<rect x="432.25" y="372.85" width="8.00" height="1.90" rx="0.95" fill="#000" opacity="0.60" filter="url(#b3)"/>
<rect x="444.80" y="372.30" width="11.20" height="3.40" rx="1.70" fill="#000" opacity="0.66" filter="url(#b3)"/>
<rect x="446.40" y="373.05" width="8.00" height="1.90" rx="0.95" fill="#000" opacity="0.53" filter="url(#b3)"/>
<rect x="458.95" y="372.50" width="11.20" height="3.40" rx="1.70" fill="#000" opacity="0.62" filter="url(#b3)"/>
<rect x="460.55" y="373.25" width="8.00" height="1.90" rx="0.95" fill="#000" opacity="0.50" filter="url(#b3)"/>
<rect x="473.10" y="372.60" width="11.20" height="3.40" rx="1.70" fill="#000" opacity="0.70" filter="url(#b3)"/>
<rect x="474.70" y="373.35" width="8.00" height="1.90" rx="0.95" fill="#000" opacity="0.56" filter="url(#b3)"/>
<rect x="487.25" y="372.60" width="11.20" height="3.40" rx="1.70" fill="#000" opacity="0.80" filter="url(#b3)"/>
<rect x="488.85" y="373.35" width="8.00" height="1.90" rx="0.95" fill="#000" opacity="0.64" filter="url(#b3)"/>
<rect x="501.40" y="372.80" width="11.20" height="3.40" rx="1.70" fill="#000" opacity="0.90" filter="url(#b3)"/>
<rect x="503.00" y="373.55" width="8.00" height="1.90" rx="0.95" fill="#000" opacity="0.72" filter="url(#b3)"/>
</svg>
<rect x="298.3" y="366.20" width="219.5" height="17.00" fill="none" stroke="#111" stroke-width="1.3"/>
<text x="292.40" y="400.50" font-size="10.5" text-anchor="end" fill="#111">GAPDH</text>
<svg x="298.3" y="387.70" width="219.5" height="17.20" viewBox="298.3 387.70 219.5 17.20" overflow="hidden">
<rect x="298.3" y="387.70" width="219.5" height="17.20" fill="#f3f3f3"/>
<rect x="302.60" y="392.70" width="12.60" height="5.20" rx="2.60" fill="#000" opacity="1.00" filter="url(#b1)" transform="rotate(4 308.90 395.30)"/>
<rect x="303.90" y="393.80" width="10.00" height="3.00" rx="1.50" fill="#000" opacity="1.00" filter="url(#b1)" transform="rotate(4 308.90 395.30)"/>
<rect x="316.75" y="393.50" width="12.60" height="5.20" rx="2.60" fill="#000" opacity="1.00" filter="url(#b1)" transform="rotate(3 323.05 396.10)"/>
<rect x="318.05" y="394.60" width="10.00" height="3.00" rx="1.50" fill="#000" opacity="1.00" filter="url(#b1)" transform="rotate(3 323.05 396.10)"/>
<rect x="330.90" y="394.30" width="12.60" height="5.20" rx="2.60" fill="#000" opacity="1.00" filter="url(#b1)"/>
<rect x="332.20" y="395.40" width="10.00" height="3.00" rx="1.50" fill="#000" opacity="1.00" filter="url(#b1)"/>
<rect x="345.05" y="394.50" width="12.60" height="5.20" rx="2.60" fill="#000" opacity="1.00" filter="url(#b1)"/>
<rect x="346.35" y="395.60" width="10.00" height="3.00" rx="1.50" fill="#000" opacity="1.00" filter="url(#b1)"/>
<rect x="359.20" y="394.50" width="12.60" height="5.20" rx="2.60" fill="#000" opacity="1.00" filter="url(#b1)"/>
<rect x="360.50" y="395.60" width="10.00" height="3.00" rx="1.50" fill="#000" opacity="1.00" filter="url(#b1)"/>
<rect x="373.35" y="394.70" width="12.60" height="5.20" rx="2.60" fill="#000" opacity="1.00" filter="url(#b1)"/>
<rect x="374.65" y="395.80" width="10.00" height="3.00" rx="1.50" fill="#000" opacity="1.00" filter="url(#b1)"/>
<rect x="387.50" y="394.90" width="12.60" height="5.20" rx="2.60" fill="#000" opacity="1.00" filter="url(#b1)"/>
<rect x="388.80" y="396.00" width="10.00" height="3.00" rx="1.50" fill="#000" opacity="1.00" filter="url(#b1)"/>
<rect x="401.65" y="395.10" width="12.60" height="5.20" rx="2.60" fill="#000" opacity="1.00" filter="url(#b1)"/>
<rect x="402.95" y="396.20" width="10.00" height="3.00" rx="1.50" fill="#000" opacity="1.00" filter="url(#b1)"/>
<rect x="415.80" y="395.20" width="12.60" height="5.20" rx="2.60" fill="#000" opacity="1.00" filter="url(#b1)"/>
<rect x="417.10" y="396.30" width="10.00" height="3.00" rx="1.50" fill="#000" opacity="1.00" filter="url(#b1)"/>
<rect x="429.95" y="395.30" width="12.60" height="5.20" rx="2.60" fill="#000" opacity="1.00" filter="url(#b1)"/>
<rect x="431.25" y="396.40" width="10.00" height="3.00" rx="1.50" fill="#000" opacity="1.00" filter="url(#b1)"/>
<rect x="444.10" y="395.30" width="12.60" height="5.20" rx="2.60" fill="#000" opacity="1.00" filter="url(#b1)"/>
<rect x="445.40" y="396.40" width="10.00" height="3.00" rx="1.50" fill="#000" opacity="1.00" filter="url(#b1)"/>
<rect x="458.25" y="395.10" width="12.60" height="5.20" rx="2.60" fill="#000" opacity="1.00" filter="url(#b1)" transform="rotate(-3 464.55 397.70)"/>
<rect x="459.55" y="396.20" width="10.00" height="3.00" rx="1.50" fill="#000" opacity="1.00" filter="url(#b1)" transform="rotate(-3 464.55 397.70)"/>
<rect x="472.40" y="394.30" width="12.60" height="5.20" rx="2.60" fill="#000" opacity="1.00" filter="url(#b1)" transform="rotate(-5 478.70 396.90)"/>
<rect x="473.70" y="395.40" width="10.00" height="3.00" rx="1.50" fill="#000" opacity="1.00" filter="url(#b1)" transform="rotate(-5 478.70 396.90)"/>
<rect x="486.55" y="393.50" width="12.60" height="5.20" rx="2.60" fill="#000" opacity="1.00" filter="url(#b1)" transform="rotate(-8 492.85 396.10)"/>
<rect x="487.85" y="394.60" width="10.00" height="3.00" rx="1.50" fill="#000" opacity="1.00" filter="url(#b1)" transform="rotate(-8 492.85 396.10)"/>
<rect x="500.70" y="392.10" width="12.60" height="5.20" rx="2.60" fill="#000" opacity="1.00" filter="url(#b1)" transform="rotate(-12 507.00 394.70)"/>
<rect x="502.00" y="393.20" width="10.00" height="3.00" rx="1.50" fill="#000" opacity="1.00" filter="url(#b1)" transform="rotate(-12 507.00 394.70)"/>
</svg>
<rect x="298.3" y="387.70" width="219.5" height="17.20" fill="none" stroke="#111" stroke-width="1.3"/>
<line x1="48.40" y1="455.20" x2="48.40" y2="574.40" stroke="#333" stroke-width="0.8"/>
<line x1="48.40" y1="574.40" x2="164.30" y2="574.40" stroke="#333" stroke-width="0.8"/>
<line x1="48.40" y1="574.40" x2="50.00" y2="574.40" stroke="#333" stroke-width="0.7"/>
<text transform="translate(43.20 577.30) scale(0.88 1)" font-size="8.4" text-anchor="end" fill="#222">0.1</text>
<line x1="48.40" y1="534.60" x2="50.00" y2="534.60" stroke="#333" stroke-width="0.7"/>
<text transform="translate(43.20 537.50) scale(0.88 1)" font-size="8.4" text-anchor="end" fill="#222">1</text>
<line x1="48.40" y1="494.80" x2="50.00" y2="494.80" stroke="#333" stroke-width="0.7"/>
<text transform="translate(43.20 497.70) scale(0.88 1)" font-size="8.4" text-anchor="end" fill="#222">10</text>
<line x1="48.40" y1="455.00" x2="50.00" y2="455.00" stroke="#333" stroke-width="0.7"/>
<text transform="translate(43.20 457.90) scale(0.88 1)" font-size="8.4" text-anchor="end" fill="#222">100</text>
<line x1="48.40" y1="574.40" x2="48.40" y2="575.80" stroke="#333" stroke-width="0.6"/>
<path d="M48.40 575.40L50.05 578.90L46.75 578.90Z" fill="#000"/>
<line x1="57.32" y1="574.40" x2="57.32" y2="575.80" stroke="#333" stroke-width="0.6"/>
<path d="M57.32 575.40L58.97 578.90L55.67 578.90Z" fill="#000"/>
<line x1="66.24" y1="574.40" x2="66.24" y2="575.80" stroke="#333" stroke-width="0.6"/>
<path d="M66.24 575.40L67.89 578.90L64.59 578.90Z" fill="#000"/>
<line x1="75.16" y1="574.40" x2="75.16" y2="575.80" stroke="#333" stroke-width="0.6"/>
<path d="M75.16 575.40L76.81 578.90L73.51 578.90Z" fill="#000"/>
<line x1="84.08" y1="574.40" x2="84.08" y2="575.80" stroke="#333" stroke-width="0.6"/>
<path d="M84.08 575.40L85.73 578.90L82.43 578.90Z" fill="#000"/>
<line x1="93.00" y1="574.40" x2="93.00" y2="575.80" stroke="#333" stroke-width="0.6"/>
<path d="M93.00 575.40L94.65 578.90L91.35 578.90Z" fill="#000"/>
<line x1="101.92" y1="574.40" x2="101.92" y2="575.80" stroke="#333" stroke-width="0.6"/>
<path d="M101.92 575.40L103.57 578.90L100.27 578.90Z" fill="#000"/>
<line x1="110.84" y1="574.40" x2="110.84" y2="575.80" stroke="#333" stroke-width="0.6"/>
<path d="M110.84 575.40L112.49 578.90L109.19 578.90Z" fill="#000"/>
<line x1="119.76" y1="574.40" x2="119.76" y2="575.80" stroke="#333" stroke-width="0.6"/>
<path d="M119.76 575.40L121.41 578.90L118.11 578.90Z" fill="#000"/>
<line x1="128.68" y1="574.40" x2="128.68" y2="575.80" stroke="#333" stroke-width="0.6"/>
<path d="M128.68 575.40L130.33 578.90L127.03 578.90Z" fill="#000"/>
<line x1="137.60" y1="574.40" x2="137.60" y2="575.80" stroke="#333" stroke-width="0.6"/>
<path d="M137.60 575.40L139.25 578.90L135.95 578.90Z" fill="#000"/>
<line x1="146.52" y1="574.40" x2="146.52" y2="575.80" stroke="#333" stroke-width="0.6"/>
<path d="M146.52 575.40L148.17 578.90L144.87 578.90Z" fill="#000"/>
<line x1="155.44" y1="574.40" x2="155.44" y2="575.80" stroke="#333" stroke-width="0.6"/>
<path d="M155.44 575.40L157.09 578.90L153.79 578.90Z" fill="#000"/>
<text transform="translate(48.40 586.50) scale(0.885 1)" font-size="8.4" text-anchor="middle" fill="#222">17</text>
<text transform="translate(66.24 586.50) scale(0.885 1)" font-size="8.4" text-anchor="middle" fill="#222">19</text>
<text transform="translate(84.08 586.50) scale(0.885 1)" font-size="8.4" text-anchor="middle" fill="#222">21</text>
<text transform="translate(101.92 586.50) scale(0.885 1)" font-size="8.4" text-anchor="middle" fill="#222">23</text>
<text transform="translate(119.76 586.50) scale(0.885 1)" font-size="8.4" text-anchor="middle" fill="#222">25</text>
<text transform="translate(137.60 586.50) scale(0.885 1)" font-size="8.4" text-anchor="middle" fill="#222">27</text>
<text transform="translate(155.44 586.50) scale(0.885 1)" font-size="8.4" text-anchor="middle" fill="#222">29</text>
<text x="106.60" y="601.00" font-size="8.6" text-anchor="middle" fill="#222">Days after inoculation</text>
<text x="15.00" y="515.00" font-size="8.45" text-anchor="middle" fill="#222" transform="rotate(-90 15.00 515.00)">Relative</text>
<text x="25.40" y="514.80" font-size="8.65" text-anchor="middle" fill="#222" transform="rotate(-90 25.40 514.80)">luminescence change</text>
<line x1="84.08" y1="509.00" x2="84.08" y2="520.50" stroke="#111" stroke-width="1.0"/>
<line x1="81.38" y1="509.00" x2="86.78" y2="509.00" stroke="#111" stroke-width="1.0"/>
<line x1="81.38" y1="520.50" x2="86.78" y2="520.50" stroke="#111" stroke-width="1.0"/>
<line x1="119.76" y1="485.40" x2="119.76" y2="519.00" stroke="#111" stroke-width="1.0"/>
<line x1="117.06" y1="485.40" x2="122.46" y2="485.40" stroke="#111" stroke-width="1.0"/>
<line x1="117.06" y1="519.00" x2="122.46" y2="519.00" stroke="#111" stroke-width="1.0"/>
<line x1="155.44" y1="469.70" x2="155.44" y2="489.20" stroke="#111" stroke-width="1.0"/>
<line x1="152.74" y1="469.70" x2="158.14" y2="469.70" stroke="#111" stroke-width="1.0"/>
<line x1="152.74" y1="489.20" x2="158.14" y2="489.20" stroke="#111" stroke-width="1.0"/>
<line x1="84.08" y1="534.60" x2="84.08" y2="558.00" stroke="#111" stroke-width="1.0"/>
<line x1="81.38" y1="534.60" x2="86.78" y2="534.60" stroke="#111" stroke-width="1.0"/>
<line x1="81.38" y1="558.00" x2="86.78" y2="558.00" stroke="#111" stroke-width="1.0"/>
<line x1="119.76" y1="546.00" x2="119.76" y2="555.70" stroke="#111" stroke-width="1.0"/>
<line x1="117.06" y1="546.00" x2="122.46" y2="546.00" stroke="#111" stroke-width="1.0"/>
<line x1="117.06" y1="555.70" x2="122.46" y2="555.70" stroke="#111" stroke-width="1.0"/>
<line x1="155.44" y1="545.40" x2="155.44" y2="559.00" stroke="#111" stroke-width="1.0"/>
<line x1="152.74" y1="545.40" x2="158.14" y2="545.40" stroke="#111" stroke-width="1.0"/>
<line x1="152.74" y1="559.00" x2="158.14" y2="559.00" stroke="#111" stroke-width="1.0"/>
<polyline points="48.40,534.60 84.08,514.30 119.76,496.00 155.44,477.30" fill="none" stroke="#000" stroke-width="1.2" stroke-linejoin="round"/>
<polyline points="48.40,534.60 84.08,543.20 119.76,550.30 155.44,550.80" fill="none" stroke="#000" stroke-width="1.2" stroke-linejoin="round"/>
<circle cx="84.08" cy="514.30" r="3.50" fill="#000" stroke="#000" stroke-width="0.6"/>
<circle cx="119.76" cy="496.00" r="3.50" fill="#000" stroke="#000" stroke-width="0.6"/>
<circle cx="155.44" cy="477.30" r="3.50" fill="#000" stroke="#000" stroke-width="0.6"/>
<circle cx="48.40" cy="534.60" r="3.30" fill="#fff" stroke="#000" stroke-width="1.1"/>
<circle cx="84.08" cy="543.20" r="3.30" fill="#fff" stroke="#000" stroke-width="1.1"/>
<circle cx="119.76" cy="550.30" r="3.30" fill="#fff" stroke="#000" stroke-width="1.1"/>
<circle cx="155.44" cy="550.80" r="3.30" fill="#fff" stroke="#000" stroke-width="1.1"/>
<line x1="56.00" y1="465.70" x2="77.80" y2="465.70" stroke="#000" stroke-width="1.3"/>
<circle cx="67.00" cy="465.70" r="3.50" fill="#000" stroke="#000" stroke-width="0.6"/>
<text x="79.10" y="469.50" font-size="10.6" text-anchor="start" fill="#111">Vehicle</text>
<line x1="56.00" y1="482.70" x2="77.80" y2="482.70" stroke="#000" stroke-width="1.3"/>
<circle cx="67.00" cy="482.70" r="3.30" fill="#fff" stroke="#000" stroke-width="1.1"/>
<text x="79.10" y="486.50" font-size="10.5" text-anchor="start" fill="#111">CH288</text>
<line x1="249.70" y1="454.40" x2="249.70" y2="573.00" stroke="#333" stroke-width="0.8"/>
<line x1="249.70" y1="573.00" x2="461.34" y2="573.00" stroke="#333" stroke-width="0.8"/>
<line x1="249.70" y1="572.50" x2="251.50" y2="572.50" stroke="#333" stroke-width="0.7"/>
<text transform="translate(243.40 575.30) scale(0.88 1)" font-size="8.4" text-anchor="end" fill="#222">0</text>
<line x1="249.70" y1="551.00" x2="251.50" y2="551.00" stroke="#333" stroke-width="0.7"/>
<text transform="translate(243.40 553.80) scale(0.88 1)" font-size="8.4" text-anchor="end" fill="#222">20</text>
<line x1="249.70" y1="529.50" x2="251.50" y2="529.50" stroke="#333" stroke-width="0.7"/>
<text transform="translate(243.40 532.30) scale(0.88 1)" font-size="8.4" text-anchor="end" fill="#222">40</text>
<line x1="249.70" y1="508.00" x2="251.50" y2="508.00" stroke="#333" stroke-width="0.7"/>
<text transform="translate(243.40 510.80) scale(0.88 1)" font-size="8.4" text-anchor="end" fill="#222">60</text>
<line x1="249.70" y1="486.50" x2="251.50" y2="486.50" stroke="#333" stroke-width="0.7"/>
<text transform="translate(243.40 489.30) scale(0.88 1)" font-size="8.4" text-anchor="end" fill="#222">80</text>
<line x1="249.70" y1="465.00" x2="251.50" y2="465.00" stroke="#333" stroke-width="0.7"/>
<text transform="translate(243.40 467.80) scale(0.88 1)" font-size="8.4" text-anchor="end" fill="#222">100</text>
<line x1="249.70" y1="570.80" x2="249.70" y2="573.00" stroke="#333" stroke-width="0.7"/>
<text transform="translate(249.70 584.00) scale(0.88 1)" font-size="8.4" text-anchor="middle" fill="#222">0</text>
<line x1="268.94" y1="570.80" x2="268.94" y2="573.00" stroke="#333" stroke-width="0.7"/>
<text transform="translate(268.94 584.00) scale(0.88 1)" font-size="8.4" text-anchor="middle" fill="#222">10</text>
<line x1="288.18" y1="570.80" x2="288.18" y2="573.00" stroke="#333" stroke-width="0.7"/>
<text transform="translate(288.18 584.00) scale(0.88 1)" font-size="8.4" text-anchor="middle" fill="#222">20</text>
<line x1="307.42" y1="570.80" x2="307.42" y2="573.00" stroke="#333" stroke-width="0.7"/>
<text transform="translate(307.42 584.00) scale(0.88 1)" font-size="8.4" text-anchor="middle" fill="#222">30</text>
<line x1="326.66" y1="570.80" x2="326.66" y2="573.00" stroke="#333" stroke-width="0.7"/>
<text transform="translate(326.66 584.00) scale(0.88 1)" font-size="8.4" text-anchor="middle" fill="#222">40</text>
<line x1="345.90" y1="570.80" x2="345.90" y2="573.00" stroke="#333" stroke-width="0.7"/>
<text transform="translate(345.90 584.00) scale(0.88 1)" font-size="8.4" text-anchor="middle" fill="#222">50</text>
<line x1="365.14" y1="570.80" x2="365.14" y2="573.00" stroke="#333" stroke-width="0.7"/>
<text transform="translate(365.14 584.00) scale(0.88 1)" font-size="8.4" text-anchor="middle" fill="#222">60</text>
<line x1="384.38" y1="570.80" x2="384.38" y2="573.00" stroke="#333" stroke-width="0.7"/>
<text transform="translate(384.38 584.00) scale(0.88 1)" font-size="8.4" text-anchor="middle" fill="#222">70</text>
<line x1="403.62" y1="570.80" x2="403.62" y2="573.00" stroke="#333" stroke-width="0.7"/>
<text transform="translate(403.62 584.00) scale(0.88 1)" font-size="8.4" text-anchor="middle" fill="#222">80</text>
<line x1="422.86" y1="570.80" x2="422.86" y2="573.00" stroke="#333" stroke-width="0.7"/>
<text transform="translate(422.86 584.00) scale(0.88 1)" font-size="8.4" text-anchor="middle" fill="#222">90</text>
<line x1="442.10" y1="570.80" x2="442.10" y2="573.00" stroke="#333" stroke-width="0.7"/>
<text transform="translate(442.10 584.00) scale(0.88 1)" font-size="8.4" text-anchor="middle" fill="#222">100</text>
<line x1="461.34" y1="570.80" x2="461.34" y2="573.00" stroke="#333" stroke-width="0.7"/>
<text transform="translate(461.34 584.00) scale(0.88 1)" font-size="8.4" text-anchor="middle" fill="#222">110</text>
<line x1="249.70" y1="573.40" x2="307.42" y2="573.40" stroke="#000" stroke-width="2.7"/>
<text x="354.90" y="600.40" font-size="8.55" text-anchor="middle" fill="#222">Days after treatment initiation</text>
<text x="223.80" y="521.20" font-size="8.6" text-anchor="middle" fill="#222" transform="rotate(-90 223.80 521.20)">Event-free survival (%)</text>
<polyline points="249.70,465.00 338.20,465.00 338.20,486.50 343.98,486.50 343.98,508.00 378.61,508.00 378.61,551.00 461.34,551.00" fill="none" stroke="#000" stroke-width="1.7" stroke-linejoin="round" stroke-linejoin="miter"/>
<polyline points="284.33,465.00 284.33,480.37 290.10,480.37 290.10,495.75 295.88,495.75 295.88,511.12 299.72,511.12 299.72,526.38 311.27,526.38 311.27,541.75 318.96,541.75 318.96,557.13 325.31,557.13 325.31,572.50" fill="none" stroke="#000" stroke-width="1.8" stroke-linejoin="round" stroke-dasharray="3.9 1.5"/>
<text x="469.00" y="457.00" font-size="8.5" text-anchor="middle" fill="#222">Mean survival (day)</text>
<line x1="446.40" y1="461.70" x2="491.10" y2="461.70" stroke="#111" stroke-width="1.2"/>
<line x1="372.30" y1="472.30" x2="401.00" y2="472.30" stroke="#000" stroke-width="1.8" stroke-dasharray="3.9 1.5"/>
<text x="403.00" y="476.00" font-size="10.65" text-anchor="start" fill="#111">Vehicle</text>
<text x="469.00" y="476.00" font-size="10.4" text-anchor="middle" fill="#111">26</text>
<line x1="372.30" y1="491.30" x2="400.30" y2="491.30" stroke="#000" stroke-width="1.7"/>
<text x="403.00" y="495.00" font-size="10.55" text-anchor="start" fill="#111">CH288</text>
<text x="469.00" y="495.00" font-size="10.4" text-anchor="middle" fill="#111">67</text>
<text x="444.40" y="514.90" font-size="10" text-anchor="start" fill="#111"><tspan font-style="italic">P</tspan> = 0.0011</text>
</svg>
</body></html>
